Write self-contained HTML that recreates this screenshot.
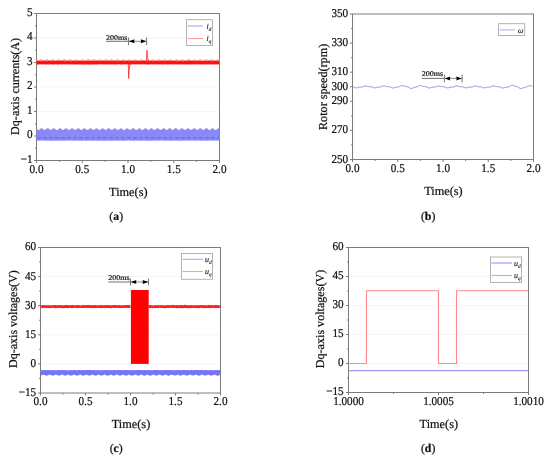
<!DOCTYPE html>
<html><head><meta charset="utf-8"><title>Figure</title><style>html,body{margin:0;padding:0;background:#fff;width:550px;height:460px;overflow:hidden}svg{display:block}</style></head><body>
<svg width="550" height="460" viewBox="0 0 550 460" font-family='"Liberation Serif", "Times New Roman", serif' fill="#111">
<style>text{stroke:#111;stroke-width:0.22px;paint-order:stroke;text-rendering:geometricPrecision}</style>
<rect width="550" height="460" fill="#fff"/>
<line x1="36.5" y1="136.00" x2="219.5" y2="136.00" stroke="#f6f6f6" stroke-width="1"/>
<line x1="36.5" y1="111.50" x2="219.5" y2="111.50" stroke="#f6f6f6" stroke-width="1"/>
<line x1="36.5" y1="87.00" x2="219.5" y2="87.00" stroke="#f6f6f6" stroke-width="1"/>
<line x1="36.5" y1="62.50" x2="219.5" y2="62.50" stroke="#f6f6f6" stroke-width="1"/>
<line x1="36.5" y1="38.00" x2="219.5" y2="38.00" stroke="#f6f6f6" stroke-width="1"/>
<line x1="36.50" y1="160.5" x2="36.50" y2="163.0" stroke="#7c7c7c" stroke-width="1"/>
<line x1="82.25" y1="160.5" x2="82.25" y2="163.0" stroke="#7c7c7c" stroke-width="1"/>
<line x1="128.00" y1="160.5" x2="128.00" y2="163.0" stroke="#7c7c7c" stroke-width="1"/>
<line x1="173.75" y1="160.5" x2="173.75" y2="163.0" stroke="#7c7c7c" stroke-width="1"/>
<line x1="219.50" y1="160.5" x2="219.50" y2="163.0" stroke="#7c7c7c" stroke-width="1"/>
<line x1="59.38" y1="160.5" x2="59.38" y2="162.0" stroke="#7c7c7c" stroke-width="1"/>
<line x1="105.12" y1="160.5" x2="105.12" y2="162.0" stroke="#7c7c7c" stroke-width="1"/>
<line x1="150.88" y1="160.5" x2="150.88" y2="162.0" stroke="#7c7c7c" stroke-width="1"/>
<line x1="196.62" y1="160.5" x2="196.62" y2="162.0" stroke="#7c7c7c" stroke-width="1"/>
<line x1="34.0" y1="160.50" x2="36.5" y2="160.50" stroke="#7c7c7c" stroke-width="1"/>
<line x1="34.0" y1="136.00" x2="36.5" y2="136.00" stroke="#7c7c7c" stroke-width="1"/>
<line x1="34.0" y1="111.50" x2="36.5" y2="111.50" stroke="#7c7c7c" stroke-width="1"/>
<line x1="34.0" y1="87.00" x2="36.5" y2="87.00" stroke="#7c7c7c" stroke-width="1"/>
<line x1="34.0" y1="62.50" x2="36.5" y2="62.50" stroke="#7c7c7c" stroke-width="1"/>
<line x1="34.0" y1="38.00" x2="36.5" y2="38.00" stroke="#7c7c7c" stroke-width="1"/>
<line x1="34.0" y1="13.50" x2="36.5" y2="13.50" stroke="#7c7c7c" stroke-width="1"/>
<line x1="35.0" y1="148.25" x2="36.5" y2="148.25" stroke="#7c7c7c" stroke-width="1"/>
<line x1="35.0" y1="123.75" x2="36.5" y2="123.75" stroke="#7c7c7c" stroke-width="1"/>
<line x1="35.0" y1="99.25" x2="36.5" y2="99.25" stroke="#7c7c7c" stroke-width="1"/>
<line x1="35.0" y1="74.75" x2="36.5" y2="74.75" stroke="#7c7c7c" stroke-width="1"/>
<line x1="35.0" y1="50.25" x2="36.5" y2="50.25" stroke="#7c7c7c" stroke-width="1"/>
<line x1="35.0" y1="25.75" x2="36.5" y2="25.75" stroke="#7c7c7c" stroke-width="1"/>
<rect x="36.5" y="13.5" width="183.0" height="147.0" fill="none" stroke="#7c7c7c" stroke-width="1"/>
<text transform="translate(36.50 172.5) scale(0.93 1)" font-size="12.0" text-anchor="middle">0.0</text>
<text transform="translate(82.25 172.5) scale(0.93 1)" font-size="12.0" text-anchor="middle">0.5</text>
<text transform="translate(128.00 172.5) scale(0.93 1)" font-size="12.0" text-anchor="middle">1.0</text>
<text transform="translate(173.75 172.5) scale(0.93 1)" font-size="12.0" text-anchor="middle">1.5</text>
<text transform="translate(219.50 172.5) scale(0.93 1)" font-size="12.0" text-anchor="middle">2.0</text>
<text transform="translate(32.6 162.85) scale(0.93 1)" font-size="12.0" text-anchor="end">−1</text>
<text transform="translate(32.6 138.35) scale(0.93 1)" font-size="12.0" text-anchor="end">0</text>
<text transform="translate(32.6 113.85) scale(0.93 1)" font-size="12.0" text-anchor="end">1</text>
<text transform="translate(32.6 89.35) scale(0.93 1)" font-size="12.0" text-anchor="end">2</text>
<text transform="translate(32.6 64.85) scale(0.93 1)" font-size="12.0" text-anchor="end">3</text>
<text transform="translate(32.6 40.35) scale(0.93 1)" font-size="12.0" text-anchor="end">4</text>
<text transform="translate(32.6 15.85) scale(0.93 1)" font-size="12.0" text-anchor="end">5</text>
<path d="M36.50 128.67 L37.00 128.98 L37.50 129.43 L38.00 129.90 L38.50 130.06 L39.00 129.98 L39.50 129.61 L40.00 129.31 L40.50 128.73 L41.00 128.41 L41.50 128.12 L42.00 128.20 L42.50 128.66 L43.00 128.99 L43.50 129.46 L44.00 129.67 L44.50 129.89 L45.00 130.01 L45.50 129.60 L46.00 129.33 L46.50 128.87 L47.00 128.40 L47.50 128.35 L48.00 128.27 L48.50 128.42 L49.00 128.71 L49.50 129.30 L50.00 129.76 L50.50 130.02 L51.00 129.82 L51.50 129.60 L52.00 129.30 L52.50 128.91 L53.00 128.45 L53.50 128.31 L54.00 128.39 L54.50 128.39 L55.00 128.67 L55.50 129.23 L56.00 129.73 L56.50 129.95 L57.00 130.05 L57.50 129.88 L58.00 129.47 L58.50 129.15 L59.00 128.60 L59.50 128.24 L60.00 128.32 L60.50 128.42 L61.00 128.56 L61.50 129.20 L62.00 129.60 L62.50 129.79 L63.00 130.07 L63.50 129.85 L64.00 129.38 L64.50 129.10 L65.00 128.64 L65.50 128.26 L66.00 128.14 L66.50 128.37 L67.00 128.74 L67.50 129.15 L68.00 129.53 L68.50 129.82 L69.00 130.07 L69.50 129.97 L70.00 129.73 L70.50 129.16 L71.00 128.85 L71.50 128.47 L72.00 128.16 L72.50 128.31 L73.00 128.67 L73.50 128.98 L74.00 129.26 L74.50 129.86 L75.00 129.90 L75.50 129.87 L76.00 129.65 L76.50 129.17 L77.00 128.92 L77.50 128.59 L78.00 128.27 L78.50 128.33 L79.00 128.39 L79.50 128.75 L80.00 129.18 L80.50 129.74 L81.00 129.93 L81.50 130.05 L82.00 129.79 L82.50 129.22 L83.00 128.81 L83.50 128.41 L84.00 128.39 L84.50 128.35 L85.00 128.39 L85.50 128.67 L86.00 129.15 L86.50 129.71 L87.00 129.73 L87.50 129.84 L88.00 129.86 L88.50 129.49 L89.00 128.88 L89.50 128.65 L90.00 128.27 L90.50 128.36 L91.00 128.26 L91.50 128.80 L92.00 128.96 L92.50 129.56 L93.00 129.92 L93.50 129.78 L94.00 129.81 L94.50 129.54 L95.00 129.01 L95.50 128.77 L96.00 128.46 L96.50 128.32 L97.00 128.45 L97.50 128.66 L98.00 129.00 L98.50 129.46 L99.00 129.77 L99.50 129.91 L100.00 129.87 L100.50 129.74 L101.00 129.29 L101.50 128.70 L102.00 128.48 L102.50 128.24 L103.00 128.42 L103.50 128.63 L104.00 128.85 L104.50 129.34 L105.00 129.59 L105.50 129.87 L106.00 129.88 L106.50 129.67 L107.00 129.28 L107.50 128.79 L108.00 128.35 L108.50 128.26 L109.00 128.18 L109.50 128.60 L110.00 128.98 L110.50 129.41 L111.00 129.57 L111.50 129.99 L112.00 129.86 L112.50 129.60 L113.00 129.44 L113.50 128.97 L114.00 128.40 L114.50 128.41 L115.00 128.26 L115.50 128.52 L116.00 128.70 L116.50 129.18 L117.00 129.73 L117.50 129.81 L118.00 130.05 L118.50 129.68 L119.00 129.56 L119.50 129.16 L120.00 128.69 L120.50 128.36 L121.00 128.16 L121.50 128.49 L122.00 128.67 L122.50 129.23 L123.00 129.46 L123.50 129.94 L124.00 129.88 L124.50 129.94 L125.00 129.65 L125.50 129.12 L126.00 128.68 L126.50 128.45 L127.00 128.24 L127.50 128.46 L128.00 128.75 L128.50 129.08 L129.00 129.36 L129.50 129.77 L130.00 129.96 L130.50 129.93 L131.00 129.52 L131.50 129.29 L132.00 128.64 L132.50 128.33 L133.00 128.26 L133.50 128.34 L134.00 128.49 L134.50 128.98 L135.00 129.30 L135.50 129.74 L136.00 130.04 L136.50 130.01 L137.00 129.73 L137.50 129.40 L138.00 128.74 L138.50 128.55 L139.00 128.34 L139.50 128.38 L140.00 128.56 L140.50 128.71 L141.00 129.35 L141.50 129.71 L142.00 130.03 L142.50 129.91 L143.00 129.80 L143.50 129.51 L144.00 129.06 L144.50 128.69 L145.00 128.36 L145.50 128.23 L146.00 128.36 L146.50 128.71 L147.00 129.23 L147.50 129.44 L148.00 129.78 L148.50 130.05 L149.00 129.65 L149.50 129.37 L150.00 129.13 L150.50 128.62 L151.00 128.25 L151.50 128.23 L152.00 128.33 L152.50 128.77 L153.00 129.22 L153.50 129.63 L154.00 129.80 L154.50 129.88 L155.00 129.82 L155.50 129.43 L156.00 129.11 L156.50 128.65 L157.00 128.31 L157.50 128.38 L158.00 128.27 L158.50 128.55 L159.00 129.02 L159.50 129.45 L160.00 129.69 L160.50 129.87 L161.00 129.96 L161.50 129.51 L162.00 129.17 L162.50 128.90 L163.00 128.38 L163.50 128.21 L164.00 128.30 L164.50 128.56 L165.00 128.82 L165.50 129.22 L166.00 129.86 L166.50 129.81 L167.00 129.90 L167.50 129.74 L168.00 129.36 L168.50 128.96 L169.00 128.35 L169.50 128.18 L170.00 128.16 L170.50 128.57 L171.00 128.86 L171.50 129.43 L172.00 129.67 L172.50 129.99 L173.00 129.96 L173.50 129.86 L174.00 129.26 L174.50 128.81 L175.00 128.43 L175.50 128.34 L176.00 128.11 L176.50 128.47 L177.00 128.84 L177.50 129.31 L178.00 129.65 L178.50 129.93 L179.00 129.91 L179.50 129.81 L180.00 129.33 L180.50 128.98 L181.00 128.49 L181.50 128.27 L182.00 128.18 L182.50 128.30 L183.00 128.76 L183.50 128.98 L184.00 129.52 L184.50 129.87 L185.00 129.78 L185.50 129.77 L186.00 129.50 L186.50 129.21 L187.00 128.78 L187.50 128.38 L188.00 128.13 L188.50 128.35 L189.00 128.71 L189.50 129.07 L190.00 129.52 L190.50 129.75 L191.00 129.84 L191.50 129.88 L192.00 129.62 L192.50 129.32 L193.00 128.63 L193.50 128.43 L194.00 128.15 L194.50 128.37 L195.00 128.58 L195.50 128.80 L196.00 129.25 L196.50 129.85 L197.00 129.79 L197.50 129.86 L198.00 129.69 L198.50 129.18 L199.00 128.71 L199.50 128.60 L200.00 128.27 L200.50 128.15 L201.00 128.44 L201.50 128.87 L202.00 129.42 L202.50 129.73 L203.00 129.84 L203.50 130.02 L204.00 129.67 L204.50 129.48 L205.00 128.93 L205.50 128.58 L206.00 128.27 L206.50 128.32 L207.00 128.29 L207.50 128.66 L208.00 129.27 L208.50 129.45 L209.00 129.91 L209.50 129.92 L210.00 129.79 L210.50 129.39 L211.00 129.10 L211.50 128.67 L212.00 128.28 L212.50 128.16 L213.00 128.38 L213.50 128.55 L214.00 129.01 L214.50 129.60 L215.00 129.88 L215.50 129.92 L216.00 129.90 L216.50 129.47 L217.00 129.21 L217.50 128.78 L218.00 128.49 L218.50 128.38 L219.00 128.22 L219.50 128.55 L219.50 140.80 L219.00 140.77 L218.50 140.62 L218.00 140.52 L217.50 140.79 L217.00 140.62 L216.50 140.78 L216.00 140.63 L215.50 140.56 L215.00 140.79 L214.50 140.73 L214.00 140.57 L213.50 140.59 L213.00 140.56 L212.50 140.72 L212.00 140.56 L211.50 140.63 L211.00 140.51 L210.50 140.78 L210.00 140.58 L209.50 140.70 L209.00 140.51 L208.50 140.71 L208.00 140.57 L207.50 140.64 L207.00 140.69 L206.50 140.64 L206.00 140.50 L205.50 140.57 L205.00 140.67 L204.50 140.52 L204.00 140.71 L203.50 140.58 L203.00 140.59 L202.50 140.78 L202.00 140.73 L201.50 140.67 L201.00 140.73 L200.50 140.72 L200.00 140.70 L199.50 140.55 L199.00 140.57 L198.50 140.76 L198.00 140.78 L197.50 140.50 L197.00 140.64 L196.50 140.71 L196.00 140.51 L195.50 140.75 L195.00 140.63 L194.50 140.57 L194.00 140.56 L193.50 140.69 L193.00 140.54 L192.50 140.58 L192.00 140.60 L191.50 140.66 L191.00 140.62 L190.50 140.77 L190.00 140.58 L189.50 140.53 L189.00 140.53 L188.50 140.54 L188.00 140.80 L187.50 140.57 L187.00 140.77 L186.50 140.55 L186.00 140.62 L185.50 140.59 L185.00 140.58 L184.50 140.72 L184.00 140.60 L183.50 140.54 L183.00 140.51 L182.50 140.69 L182.00 140.64 L181.50 140.51 L181.00 140.66 L180.50 140.77 L180.00 140.74 L179.50 140.79 L179.00 140.56 L178.50 140.58 L178.00 140.78 L177.50 140.75 L177.00 140.51 L176.50 140.63 L176.00 140.68 L175.50 140.62 L175.00 140.59 L174.50 140.71 L174.00 140.54 L173.50 140.73 L173.00 140.75 L172.50 140.60 L172.00 140.59 L171.50 140.65 L171.00 140.51 L170.50 140.77 L170.00 140.71 L169.50 140.65 L169.00 140.54 L168.50 140.66 L168.00 140.67 L167.50 140.78 L167.00 140.58 L166.50 140.79 L166.00 140.64 L165.50 140.78 L165.00 140.56 L164.50 140.54 L164.00 140.64 L163.50 140.59 L163.00 140.71 L162.50 140.58 L162.00 140.50 L161.50 140.59 L161.00 140.58 L160.50 140.52 L160.00 140.69 L159.50 140.71 L159.00 140.61 L158.50 140.79 L158.00 140.56 L157.50 140.58 L157.00 140.58 L156.50 140.52 L156.00 140.66 L155.50 140.72 L155.00 140.50 L154.50 140.70 L154.00 140.69 L153.50 140.75 L153.00 140.61 L152.50 140.51 L152.00 140.71 L151.50 140.77 L151.00 140.75 L150.50 140.75 L150.00 140.66 L149.50 140.74 L149.00 140.69 L148.50 140.75 L148.00 140.69 L147.50 140.54 L147.00 140.60 L146.50 140.76 L146.00 140.70 L145.50 140.66 L145.00 140.57 L144.50 140.51 L144.00 140.62 L143.50 140.58 L143.00 140.65 L142.50 140.65 L142.00 140.61 L141.50 140.61 L141.00 140.79 L140.50 140.66 L140.00 140.79 L139.50 140.63 L139.00 140.64 L138.50 140.57 L138.00 140.70 L137.50 140.75 L137.00 140.55 L136.50 140.72 L136.00 140.54 L135.50 140.60 L135.00 140.69 L134.50 140.75 L134.00 140.79 L133.50 140.65 L133.00 140.75 L132.50 140.63 L132.00 140.53 L131.50 140.64 L131.00 140.67 L130.50 140.50 L130.00 140.51 L129.50 140.55 L129.00 140.59 L128.50 140.59 L128.00 140.56 L127.50 140.55 L127.00 140.57 L126.50 140.54 L126.00 140.78 L125.50 140.60 L125.00 140.76 L124.50 140.76 L124.00 140.74 L123.50 140.78 L123.00 140.63 L122.50 140.52 L122.00 140.71 L121.50 140.78 L121.00 140.58 L120.50 140.77 L120.00 140.54 L119.50 140.73 L119.00 140.58 L118.50 140.79 L118.00 140.80 L117.50 140.65 L117.00 140.60 L116.50 140.63 L116.00 140.51 L115.50 140.60 L115.00 140.60 L114.50 140.63 L114.00 140.75 L113.50 140.65 L113.00 140.79 L112.50 140.79 L112.00 140.54 L111.50 140.71 L111.00 140.77 L110.50 140.70 L110.00 140.57 L109.50 140.63 L109.00 140.54 L108.50 140.78 L108.00 140.58 L107.50 140.76 L107.00 140.78 L106.50 140.66 L106.00 140.71 L105.50 140.65 L105.00 140.63 L104.50 140.73 L104.00 140.65 L103.50 140.58 L103.00 140.67 L102.50 140.74 L102.00 140.66 L101.50 140.67 L101.00 140.64 L100.50 140.74 L100.00 140.55 L99.50 140.51 L99.00 140.66 L98.50 140.78 L98.00 140.77 L97.50 140.64 L97.00 140.77 L96.50 140.63 L96.00 140.68 L95.50 140.59 L95.00 140.56 L94.50 140.76 L94.00 140.78 L93.50 140.69 L93.00 140.50 L92.50 140.66 L92.00 140.70 L91.50 140.75 L91.00 140.74 L90.50 140.55 L90.00 140.55 L89.50 140.78 L89.00 140.62 L88.50 140.74 L88.00 140.74 L87.50 140.64 L87.00 140.73 L86.50 140.70 L86.00 140.74 L85.50 140.64 L85.00 140.77 L84.50 140.56 L84.00 140.57 L83.50 140.61 L83.00 140.80 L82.50 140.63 L82.00 140.71 L81.50 140.58 L81.00 140.51 L80.50 140.66 L80.00 140.72 L79.50 140.74 L79.00 140.80 L78.50 140.57 L78.00 140.73 L77.50 140.73 L77.00 140.61 L76.50 140.71 L76.00 140.79 L75.50 140.51 L75.00 140.54 L74.50 140.79 L74.00 140.55 L73.50 140.58 L73.00 140.53 L72.50 140.65 L72.00 140.80 L71.50 140.54 L71.00 140.60 L70.50 140.54 L70.00 140.76 L69.50 140.61 L69.00 140.55 L68.50 140.52 L68.00 140.55 L67.50 140.52 L67.00 140.69 L66.50 140.62 L66.00 140.74 L65.50 140.73 L65.00 140.52 L64.50 140.69 L64.00 140.71 L63.50 140.67 L63.00 140.63 L62.50 140.58 L62.00 140.65 L61.50 140.57 L61.00 140.55 L60.50 140.77 L60.00 140.62 L59.50 140.76 L59.00 140.77 L58.50 140.63 L58.00 140.76 L57.50 140.57 L57.00 140.73 L56.50 140.54 L56.00 140.64 L55.50 140.70 L55.00 140.59 L54.50 140.80 L54.00 140.71 L53.50 140.70 L53.00 140.78 L52.50 140.64 L52.00 140.68 L51.50 140.59 L51.00 140.67 L50.50 140.70 L50.00 140.65 L49.50 140.73 L49.00 140.54 L48.50 140.59 L48.00 140.76 L47.50 140.67 L47.00 140.71 L46.50 140.59 L46.00 140.68 L45.50 140.63 L45.00 140.56 L44.50 140.52 L44.00 140.61 L43.50 140.67 L43.00 140.74 L42.50 140.54 L42.00 140.59 L41.50 140.51 L41.00 140.62 L40.50 140.78 L40.00 140.57 L39.50 140.75 L39.00 140.53 L38.50 140.63 L38.00 140.65 L37.50 140.61 L37.00 140.52 L36.50 140.55 Z" fill="#8989f8" fill-opacity="1.0"/>
<line x1="37.0" y1="137.9" x2="219.0" y2="137.9" stroke="#6a6af2" stroke-width="1.3" stroke-dasharray="4 2"/>
<path d="M36.50 59.72 L37.00 60.10 L37.50 60.14 L38.00 60.19 L38.50 60.16 L39.00 60.01 L39.50 59.75 L40.00 59.39 L40.50 59.24 L41.00 59.33 L41.50 59.34 L42.00 59.70 L42.50 59.88 L43.00 60.13 L43.50 60.13 L44.00 60.24 L44.50 60.05 L45.00 59.99 L45.50 59.57 L46.00 59.39 L46.50 59.35 L47.00 59.22 L47.50 59.49 L48.00 59.69 L48.50 60.00 L49.00 60.02 L49.50 60.13 L50.00 60.26 L50.50 59.98 L51.00 59.87 L51.50 59.62 L52.00 59.32 L52.50 59.25 L53.00 59.27 L53.50 59.46 L54.00 59.74 L54.50 59.89 L55.00 60.20 L55.50 60.28 L56.00 60.28 L56.50 60.07 L57.00 59.73 L57.50 59.61 L58.00 59.46 L58.50 59.26 L59.00 59.41 L59.50 59.49 L60.00 59.70 L60.50 59.96 L61.00 60.10 L61.50 60.22 L62.00 60.12 L62.50 60.04 L63.00 59.82 L63.50 59.50 L64.00 59.37 L64.50 59.30 L65.00 59.32 L65.50 59.46 L66.00 59.81 L66.50 59.96 L67.00 60.28 L67.50 60.30 L68.00 60.04 L68.50 59.86 L69.00 59.63 L69.50 59.53 L70.00 59.24 L70.50 59.29 L71.00 59.46 L71.50 59.68 L72.00 59.90 L72.50 60.04 L73.00 60.30 L73.50 60.18 L74.00 60.14 L74.50 59.84 L75.00 59.74 L75.50 59.46 L76.00 59.29 L76.50 59.38 L77.00 59.46 L77.50 59.69 L78.00 59.94 L78.50 60.14 L79.00 60.15 L79.50 60.23 L80.00 60.03 L80.50 59.95 L81.00 59.62 L81.50 59.43 L82.00 59.31 L82.50 59.43 L83.00 59.45 L83.50 59.79 L84.00 59.97 L84.50 60.21 L85.00 60.22 L85.50 60.27 L86.00 59.97 L86.50 59.86 L87.00 59.47 L87.50 59.38 L88.00 59.22 L88.50 59.27 L89.00 59.45 L89.50 59.70 L90.00 60.01 L90.50 60.10 L91.00 60.29 L91.50 60.16 L92.00 60.07 L92.50 59.71 L93.00 59.61 L93.50 59.30 L94.00 59.23 L94.50 59.36 L95.00 59.54 L95.50 59.82 L96.00 60.05 L96.50 60.20 L97.00 60.32 L97.50 60.14 L98.00 59.89 L98.50 59.71 L99.00 59.48 L99.50 59.41 L100.00 59.39 L100.50 59.40 L101.00 59.58 L101.50 59.80 L102.00 60.07 L102.50 60.21 L103.00 60.13 L103.50 60.04 L104.00 59.85 L104.50 59.72 L105.00 59.44 L105.50 59.23 L106.00 59.26 L106.50 59.53 L107.00 59.60 L107.50 59.82 L108.00 60.04 L108.50 60.22 L109.00 60.26 L109.50 60.07 L110.00 59.94 L110.50 59.68 L111.00 59.37 L111.50 59.37 L112.00 59.41 L112.50 59.45 L113.00 59.63 L113.50 59.93 L114.00 60.22 L114.50 60.20 L115.00 60.13 L115.50 59.93 L116.00 59.83 L116.50 59.57 L117.00 59.33 L117.50 59.24 L118.00 59.32 L118.50 59.50 L119.00 59.79 L119.50 60.08 L120.00 60.14 L120.50 60.23 L121.00 60.24 L121.50 59.96 L122.00 59.85 L122.50 59.60 L123.00 59.41 L123.50 59.28 L124.00 59.35 L124.50 59.63 L125.00 59.85 L125.50 60.11 L126.00 60.11 L126.50 60.25 L127.00 60.24 L127.50 59.93 L128.00 59.67 L128.50 59.39 L129.00 59.38 L129.50 59.40 L130.00 59.43 L130.50 59.70 L131.00 59.95 L131.50 59.98 L132.00 60.27 L132.50 60.22 L133.00 60.04 L133.50 59.94 L134.00 59.74 L134.50 59.38 L135.00 59.42 L135.50 59.27 L136.00 59.39 L136.50 59.71 L137.00 59.95 L137.50 60.14 L138.00 60.18 L138.50 60.16 L139.00 60.06 L139.50 59.79 L140.00 59.65 L140.50 59.31 L141.00 59.23 L141.50 59.38 L142.00 59.43 L142.50 59.65 L143.00 59.87 L143.50 60.19 L144.00 60.20 L144.50 60.16 L145.00 60.04 L145.50 59.76 L146.00 59.57 L146.50 59.36 L147.00 59.36 L147.50 59.44 L148.00 59.59 L148.50 59.83 L149.00 60.02 L149.50 60.26 L150.00 60.19 L150.50 60.13 L151.00 60.08 L151.50 59.78 L152.00 59.45 L152.50 59.44 L153.00 59.22 L153.50 59.46 L154.00 59.64 L154.50 59.73 L155.00 60.01 L155.50 60.16 L156.00 60.31 L156.50 60.09 L157.00 59.98 L157.50 59.80 L158.00 59.52 L158.50 59.36 L159.00 59.21 L159.50 59.34 L160.00 59.70 L160.50 59.86 L161.00 60.10 L161.50 60.20 L162.00 60.15 L162.50 60.04 L163.00 60.00 L163.50 59.60 L164.00 59.54 L164.50 59.32 L165.00 59.38 L165.50 59.47 L166.00 59.70 L166.50 59.94 L167.00 60.07 L167.50 60.30 L168.00 60.29 L168.50 60.03 L169.00 59.83 L169.50 59.63 L170.00 59.33 L170.50 59.23 L171.00 59.39 L171.50 59.40 L172.00 59.73 L172.50 60.00 L173.00 60.13 L173.50 60.18 L174.00 60.22 L174.50 60.10 L175.00 59.77 L175.50 59.63 L176.00 59.32 L176.50 59.38 L177.00 59.28 L177.50 59.58 L178.00 59.71 L178.50 60.06 L179.00 60.22 L179.50 60.23 L180.00 60.20 L180.50 59.90 L181.00 59.83 L181.50 59.60 L182.00 59.26 L182.50 59.25 L183.00 59.44 L183.50 59.64 L184.00 59.82 L184.50 60.05 L185.00 60.15 L185.50 60.20 L186.00 60.21 L186.50 59.96 L187.00 59.62 L187.50 59.46 L188.00 59.35 L188.50 59.26 L189.00 59.35 L189.50 59.54 L190.00 59.82 L190.50 60.11 L191.00 60.29 L191.50 60.16 L192.00 60.08 L192.50 59.91 L193.00 59.63 L193.50 59.41 L194.00 59.38 L194.50 59.26 L195.00 59.44 L195.50 59.75 L196.00 59.97 L196.50 60.02 L197.00 60.30 L197.50 60.20 L198.00 60.07 L198.50 59.79 L199.00 59.63 L199.50 59.47 L200.00 59.33 L200.50 59.41 L201.00 59.51 L201.50 59.75 L202.00 60.04 L202.50 60.15 L203.00 60.26 L203.50 60.24 L204.00 59.94 L204.50 59.86 L205.00 59.58 L205.50 59.45 L206.00 59.24 L206.50 59.36 L207.00 59.57 L207.50 59.78 L208.00 59.93 L208.50 60.17 L209.00 60.22 L209.50 60.10 L210.00 59.92 L210.50 59.78 L211.00 59.53 L211.50 59.45 L212.00 59.34 L212.50 59.42 L213.00 59.58 L213.50 59.77 L214.00 59.95 L214.50 60.28 L215.00 60.15 L215.50 60.21 L216.00 59.92 L216.50 59.80 L217.00 59.45 L217.50 59.41 L218.00 59.36 L218.50 59.44 L219.00 59.53 L219.50 59.92 L219.50 64.28 L219.00 64.26 L218.50 64.13 L218.00 64.26 L217.50 64.13 L217.00 64.15 L216.50 64.29 L216.00 64.10 L215.50 64.27 L215.00 64.26 L214.50 64.27 L214.00 64.27 L213.50 64.17 L213.00 64.23 L212.50 64.20 L212.00 64.15 L211.50 64.24 L211.00 64.14 L210.50 64.15 L210.00 64.15 L209.50 64.17 L209.00 64.13 L208.50 64.16 L208.00 64.26 L207.50 64.23 L207.00 64.29 L206.50 64.21 L206.00 64.23 L205.50 64.26 L205.00 64.14 L204.50 64.26 L204.00 64.21 L203.50 64.25 L203.00 64.15 L202.50 64.24 L202.00 64.18 L201.50 64.18 L201.00 64.11 L200.50 64.30 L200.00 64.25 L199.50 64.24 L199.00 64.29 L198.50 64.20 L198.00 64.23 L197.50 64.24 L197.00 64.21 L196.50 64.20 L196.00 64.26 L195.50 64.21 L195.00 64.29 L194.50 64.18 L194.00 64.23 L193.50 64.29 L193.00 64.18 L192.50 64.19 L192.00 64.15 L191.50 64.24 L191.00 64.18 L190.50 64.23 L190.00 64.19 L189.50 64.24 L189.00 64.24 L188.50 64.28 L188.00 64.15 L187.50 64.25 L187.00 64.19 L186.50 64.25 L186.00 64.22 L185.50 64.19 L185.00 64.20 L184.50 64.26 L184.00 64.11 L183.50 64.14 L183.00 64.23 L182.50 64.19 L182.00 64.26 L181.50 64.18 L181.00 64.29 L180.50 64.25 L180.00 64.14 L179.50 64.13 L179.00 64.17 L178.50 64.13 L178.00 64.27 L177.50 64.16 L177.00 64.15 L176.50 64.19 L176.00 64.22 L175.50 64.19 L175.00 64.25 L174.50 64.27 L174.00 64.17 L173.50 64.23 L173.00 64.25 L172.50 64.19 L172.00 64.28 L171.50 64.20 L171.00 64.15 L170.50 64.11 L170.00 64.12 L169.50 64.18 L169.00 64.17 L168.50 64.26 L168.00 64.26 L167.50 64.23 L167.00 64.20 L166.50 64.14 L166.00 64.29 L165.50 64.27 L165.00 64.20 L164.50 64.26 L164.00 64.20 L163.50 64.30 L163.00 64.14 L162.50 64.13 L162.00 64.12 L161.50 64.14 L161.00 64.24 L160.50 64.25 L160.00 64.18 L159.50 64.22 L159.00 64.20 L158.50 64.16 L158.00 64.24 L157.50 64.15 L157.00 64.18 L156.50 64.14 L156.00 64.12 L155.50 64.16 L155.00 64.27 L154.50 64.26 L154.00 64.11 L153.50 64.14 L153.00 64.29 L152.50 64.27 L152.00 64.28 L151.50 64.26 L151.00 64.22 L150.50 64.25 L150.00 64.23 L149.50 64.11 L149.00 64.13 L148.50 64.29 L148.00 64.11 L147.50 64.28 L147.00 64.22 L146.50 64.16 L146.00 64.24 L145.50 64.27 L145.00 64.27 L144.50 64.30 L144.00 64.24 L143.50 64.28 L143.00 64.17 L142.50 64.17 L142.00 64.29 L141.50 64.15 L141.00 64.10 L140.50 64.14 L140.00 64.23 L139.50 64.20 L139.00 64.19 L138.50 64.15 L138.00 64.27 L137.50 64.25 L137.00 64.11 L136.50 64.12 L136.00 64.19 L135.50 64.19 L135.00 64.27 L134.50 64.24 L134.00 64.28 L133.50 64.16 L133.00 64.13 L132.50 64.23 L132.00 64.22 L131.50 64.13 L131.00 64.21 L130.50 64.26 L130.00 64.15 L129.50 64.21 L129.00 64.28 L128.50 64.25 L128.00 64.19 L127.50 64.17 L127.00 64.23 L126.50 64.15 L126.00 64.26 L125.50 64.23 L125.00 64.13 L124.50 64.29 L124.00 64.19 L123.50 64.14 L123.00 64.22 L122.50 64.17 L122.00 64.17 L121.50 64.10 L121.00 64.15 L120.50 64.28 L120.00 64.19 L119.50 64.13 L119.00 64.10 L118.50 64.23 L118.00 64.30 L117.50 64.15 L117.00 64.11 L116.50 64.14 L116.00 64.25 L115.50 64.22 L115.00 64.15 L114.50 64.18 L114.00 64.30 L113.50 64.28 L113.00 64.21 L112.50 64.17 L112.00 64.21 L111.50 64.26 L111.00 64.28 L110.50 64.29 L110.00 64.14 L109.50 64.16 L109.00 64.15 L108.50 64.28 L108.00 64.13 L107.50 64.15 L107.00 64.13 L106.50 64.17 L106.00 64.29 L105.50 64.13 L105.00 64.29 L104.50 64.30 L104.00 64.26 L103.50 64.30 L103.00 64.13 L102.50 64.18 L102.00 64.11 L101.50 64.26 L101.00 64.12 L100.50 64.11 L100.00 64.19 L99.50 64.19 L99.00 64.12 L98.50 64.14 L98.00 64.26 L97.50 64.15 L97.00 64.22 L96.50 64.19 L96.00 64.23 L95.50 64.22 L95.00 64.16 L94.50 64.21 L94.00 64.12 L93.50 64.11 L93.00 64.21 L92.50 64.28 L92.00 64.15 L91.50 64.18 L91.00 64.18 L90.50 64.14 L90.00 64.27 L89.50 64.14 L89.00 64.13 L88.50 64.22 L88.00 64.18 L87.50 64.11 L87.00 64.30 L86.50 64.13 L86.00 64.29 L85.50 64.20 L85.00 64.29 L84.50 64.16 L84.00 64.20 L83.50 64.22 L83.00 64.28 L82.50 64.21 L82.00 64.13 L81.50 64.28 L81.00 64.26 L80.50 64.28 L80.00 64.14 L79.50 64.14 L79.00 64.30 L78.50 64.18 L78.00 64.21 L77.50 64.29 L77.00 64.16 L76.50 64.24 L76.00 64.12 L75.50 64.21 L75.00 64.12 L74.50 64.21 L74.00 64.14 L73.50 64.14 L73.00 64.17 L72.50 64.14 L72.00 64.22 L71.50 64.14 L71.00 64.17 L70.50 64.22 L70.00 64.12 L69.50 64.26 L69.00 64.19 L68.50 64.17 L68.00 64.22 L67.50 64.14 L67.00 64.16 L66.50 64.28 L66.00 64.26 L65.50 64.12 L65.00 64.23 L64.50 64.15 L64.00 64.30 L63.50 64.17 L63.00 64.28 L62.50 64.15 L62.00 64.14 L61.50 64.17 L61.00 64.16 L60.50 64.12 L60.00 64.27 L59.50 64.23 L59.00 64.18 L58.50 64.19 L58.00 64.20 L57.50 64.12 L57.00 64.30 L56.50 64.30 L56.00 64.21 L55.50 64.11 L55.00 64.25 L54.50 64.12 L54.00 64.17 L53.50 64.17 L53.00 64.25 L52.50 64.25 L52.00 64.14 L51.50 64.20 L51.00 64.15 L50.50 64.29 L50.00 64.20 L49.50 64.10 L49.00 64.23 L48.50 64.25 L48.00 64.16 L47.50 64.24 L47.00 64.22 L46.50 64.15 L46.00 64.28 L45.50 64.15 L45.00 64.11 L44.50 64.11 L44.00 64.26 L43.50 64.11 L43.00 64.17 L42.50 64.28 L42.00 64.19 L41.50 64.19 L41.00 64.26 L40.50 64.14 L40.00 64.12 L39.50 64.17 L39.00 64.10 L38.50 64.17 L38.00 64.18 L37.50 64.11 L37.00 64.29 L36.50 64.17 Z" fill="#ff9090" fill-opacity="1.0"/>
<path d="M36.50 60.72 L37.00 60.74 L37.50 60.74 L38.00 60.96 L38.50 60.90 L39.00 60.97 L39.50 60.98 L40.00 61.11 L40.50 61.08 L41.00 61.13 L41.50 61.16 L42.00 61.19 L42.50 60.91 L43.00 60.81 L43.50 60.79 L44.00 60.92 L44.50 60.78 L45.00 60.92 L45.50 61.14 L46.00 60.99 L46.50 61.13 L47.00 61.12 L47.50 61.05 L48.00 61.14 L48.50 60.81 L49.00 60.85 L49.50 60.84 L50.00 60.98 L50.50 60.95 L51.00 60.87 L51.50 60.91 L52.00 61.05 L52.50 61.09 L53.00 61.09 L53.50 61.22 L54.00 61.27 L54.50 60.73 L55.00 60.95 L55.50 60.74 L56.00 61.03 L56.50 61.09 L57.00 60.85 L57.50 60.97 L58.00 60.94 L58.50 61.06 L59.00 61.08 L59.50 61.13 L60.00 61.17 L60.50 60.70 L61.00 60.92 L61.50 60.78 L62.00 60.86 L62.50 60.85 L63.00 60.97 L63.50 61.09 L64.00 61.12 L64.50 61.07 L65.00 61.28 L65.50 61.33 L66.00 61.14 L66.50 60.67 L67.00 60.98 L67.50 60.84 L68.00 60.77 L68.50 60.98 L69.00 60.95 L69.50 61.14 L70.00 61.22 L70.50 61.23 L71.00 61.28 L71.50 61.31 L72.00 60.69 L72.50 60.73 L73.00 60.97 L73.50 60.82 L74.00 60.85 L74.50 60.92 L75.00 61.01 L75.50 61.12 L76.00 61.02 L76.50 61.27 L77.00 61.07 L77.50 61.26 L78.00 60.87 L78.50 60.81 L79.00 60.89 L79.50 60.91 L80.00 61.04 L80.50 61.01 L81.00 60.97 L81.50 61.09 L82.00 60.96 L82.50 61.11 L83.00 61.30 L83.50 61.15 L84.00 60.82 L84.50 60.67 L85.00 60.83 L85.50 60.92 L86.00 60.97 L86.50 60.95 L87.00 60.93 L87.50 61.21 L88.00 61.12 L88.50 61.05 L89.00 61.32 L89.50 61.13 L90.00 60.76 L90.50 60.72 L91.00 60.81 L91.50 60.95 L92.00 60.93 L92.50 61.08 L93.00 60.90 L93.50 61.04 L94.00 61.12 L94.50 61.22 L95.00 61.10 L95.50 61.35 L96.00 60.71 L96.50 60.81 L97.00 60.76 L97.50 60.92 L98.00 61.05 L98.50 61.09 L99.00 61.08 L99.50 61.10 L100.00 61.22 L100.50 61.01 L101.00 61.32 L101.50 60.67 L102.00 60.77 L102.50 60.83 L103.00 61.02 L103.50 60.81 L104.00 60.94 L104.50 60.92 L105.00 60.91 L105.50 60.99 L106.00 61.20 L106.50 61.25 L107.00 61.33 L107.50 60.75 L108.00 60.82 L108.50 60.72 L109.00 60.86 L109.50 61.04 L110.00 61.04 L110.50 60.97 L111.00 61.00 L111.50 61.11 L112.00 60.99 L112.50 61.26 L113.00 61.29 L113.50 60.65 L114.00 60.71 L114.50 60.77 L115.00 60.85 L115.50 61.07 L116.00 60.90 L116.50 60.97 L117.00 61.03 L117.50 61.22 L118.00 61.21 L118.50 61.19 L119.00 61.30 L119.50 60.73 L120.00 60.76 L120.50 61.00 L121.00 60.99 L121.50 60.84 L122.00 61.09 L122.50 61.15 L123.00 60.96 L123.50 61.12 L124.00 61.05 L124.50 61.15 L125.00 61.31 L125.50 60.73 L126.00 60.94 L126.50 60.94 L127.00 61.02 L127.50 60.85 L128.00 61.09 L128.50 61.09 L129.00 61.19 L129.50 61.25 L130.00 61.11 L130.50 61.20 L131.00 60.83 L131.50 60.84 L132.00 60.69 L132.50 61.00 L133.00 60.80 L133.50 60.89 L134.00 60.86 L134.50 60.95 L135.00 61.19 L135.50 61.02 L136.00 61.26 L136.50 61.08 L137.00 60.74 L137.50 60.90 L138.00 60.78 L138.50 61.01 L139.00 60.90 L139.50 61.04 L140.00 60.98 L140.50 60.96 L141.00 61.18 L141.50 61.06 L142.00 61.11 L142.50 61.12 L143.00 60.67 L143.50 60.82 L144.00 60.73 L144.50 60.78 L145.00 61.03 L145.50 61.02 L146.00 61.06 L146.50 61.21 L147.00 61.12 L147.50 61.25 L148.00 61.09 L148.50 61.28 L149.00 60.82 L149.50 60.95 L150.00 60.73 L150.50 60.90 L151.00 60.93 L151.50 60.85 L152.00 61.12 L152.50 61.14 L153.00 61.25 L153.50 61.09 L154.00 61.33 L154.50 61.21 L155.00 60.73 L155.50 60.72 L156.00 61.01 L156.50 60.91 L157.00 61.02 L157.50 61.02 L158.00 61.01 L158.50 61.18 L159.00 61.04 L159.50 61.06 L160.00 61.23 L160.50 60.66 L161.00 60.83 L161.50 60.76 L162.00 60.96 L162.50 60.94 L163.00 60.87 L163.50 60.91 L164.00 61.18 L164.50 60.95 L165.00 61.20 L165.50 61.13 L166.00 61.20 L166.50 60.79 L167.00 60.95 L167.50 60.71 L168.00 60.76 L168.50 60.84 L169.00 60.85 L169.50 60.97 L170.00 61.00 L170.50 61.08 L171.00 61.10 L171.50 61.17 L172.00 61.08 L172.50 60.83 L173.00 60.93 L173.50 60.72 L174.00 60.97 L174.50 60.93 L175.00 61.09 L175.50 61.08 L176.00 61.12 L176.50 61.22 L177.00 61.04 L177.50 61.16 L178.00 61.31 L178.50 60.79 L179.00 60.79 L179.50 60.92 L180.00 60.99 L180.50 60.98 L181.00 61.13 L181.50 60.92 L182.00 61.05 L182.50 61.17 L183.00 61.21 L183.50 61.29 L184.00 61.12 L184.50 60.92 L185.00 60.85 L185.50 60.99 L186.00 60.77 L186.50 61.06 L187.00 61.04 L187.50 61.00 L188.00 60.98 L188.50 61.04 L189.00 61.08 L189.50 61.11 L190.00 60.63 L190.50 60.69 L191.00 60.76 L191.50 60.88 L192.00 60.90 L192.50 60.88 L193.00 60.97 L193.50 61.06 L194.00 61.02 L194.50 61.16 L195.00 61.20 L195.50 61.12 L196.00 60.77 L196.50 60.90 L197.00 60.95 L197.50 60.86 L198.00 60.80 L198.50 60.87 L199.00 60.87 L199.50 61.07 L200.00 61.24 L200.50 61.11 L201.00 61.05 L201.50 61.20 L202.00 60.77 L202.50 60.76 L203.00 60.90 L203.50 60.94 L204.00 60.88 L204.50 61.10 L205.00 61.05 L205.50 61.04 L206.00 60.96 L206.50 61.16 L207.00 61.03 L207.50 61.21 L208.00 60.88 L208.50 60.68 L209.00 60.86 L209.50 60.79 L210.00 60.85 L210.50 60.87 L211.00 61.13 L211.50 61.06 L212.00 61.20 L212.50 61.11 L213.00 61.23 L213.50 61.19 L214.00 60.82 L214.50 60.89 L215.00 61.02 L215.50 60.81 L216.00 60.90 L216.50 60.99 L217.00 61.10 L217.50 61.07 L218.00 61.09 L218.50 61.27 L219.00 61.12 L219.50 60.88 L219.50 64.25 L219.00 64.23 L218.50 64.25 L218.00 64.32 L217.50 64.50 L217.00 64.39 L216.50 64.37 L216.00 64.26 L215.50 64.38 L215.00 64.29 L214.50 64.41 L214.00 64.44 L213.50 64.21 L213.00 64.50 L212.50 64.38 L212.00 64.25 L211.50 64.35 L211.00 64.29 L210.50 64.33 L210.00 64.50 L209.50 64.41 L209.00 64.23 L208.50 64.45 L208.00 64.30 L207.50 64.44 L207.00 64.30 L206.50 64.39 L206.00 64.35 L205.50 64.46 L205.00 64.37 L204.50 64.31 L204.00 64.36 L203.50 64.48 L203.00 64.38 L202.50 64.32 L202.00 64.36 L201.50 64.50 L201.00 64.43 L200.50 64.35 L200.00 64.21 L199.50 64.47 L199.00 64.26 L198.50 64.45 L198.00 64.30 L197.50 64.23 L197.00 64.37 L196.50 64.29 L196.00 64.33 L195.50 64.45 L195.00 64.30 L194.50 64.37 L194.00 64.29 L193.50 64.34 L193.00 64.31 L192.50 64.46 L192.00 64.33 L191.50 64.49 L191.00 64.38 L190.50 64.20 L190.00 64.24 L189.50 64.41 L189.00 64.34 L188.50 64.42 L188.00 64.36 L187.50 64.45 L187.00 64.40 L186.50 64.30 L186.00 64.42 L185.50 64.27 L185.00 64.42 L184.50 64.32 L184.00 64.33 L183.50 64.22 L183.00 64.43 L182.50 64.50 L182.00 64.35 L181.50 64.27 L181.00 64.31 L180.50 64.38 L180.00 64.35 L179.50 64.27 L179.00 64.34 L178.50 64.36 L178.00 64.41 L177.50 64.40 L177.00 64.38 L176.50 64.36 L176.00 64.27 L175.50 64.32 L175.00 64.24 L174.50 64.24 L174.00 64.34 L173.50 64.35 L173.00 64.38 L172.50 64.39 L172.00 64.29 L171.50 64.33 L171.00 64.28 L170.50 64.48 L170.00 64.28 L169.50 64.28 L169.00 64.21 L168.50 64.47 L168.00 64.39 L167.50 64.43 L167.00 64.24 L166.50 64.35 L166.00 64.22 L165.50 64.31 L165.00 64.33 L164.50 64.48 L164.00 64.36 L163.50 64.45 L163.00 64.47 L162.50 64.49 L162.00 64.30 L161.50 64.30 L161.00 64.48 L160.50 64.36 L160.00 64.33 L159.50 64.48 L159.00 64.25 L158.50 64.37 L158.00 64.46 L157.50 64.24 L157.00 64.24 L156.50 64.35 L156.00 64.24 L155.50 64.42 L155.00 64.23 L154.50 64.36 L154.00 64.38 L153.50 64.26 L153.00 64.23 L152.50 64.45 L152.00 64.23 L151.50 64.27 L151.00 64.21 L150.50 64.36 L150.00 64.35 L149.50 64.46 L149.00 64.43 L148.50 64.41 L148.00 64.46 L147.50 64.41 L147.00 64.35 L146.50 64.36 L146.00 64.38 L145.50 64.25 L145.00 64.45 L144.50 64.28 L144.00 64.34 L143.50 64.20 L143.00 64.46 L142.50 64.30 L142.00 64.22 L141.50 64.32 L141.00 64.22 L140.50 64.37 L140.00 64.41 L139.50 64.26 L139.00 64.35 L138.50 64.23 L138.00 64.26 L137.50 64.43 L137.00 64.24 L136.50 64.27 L136.00 64.33 L135.50 64.36 L135.00 64.20 L134.50 64.30 L134.00 64.20 L133.50 64.29 L133.00 64.22 L132.50 64.29 L132.00 64.48 L131.50 64.50 L131.00 64.26 L130.50 64.29 L130.00 64.26 L129.50 64.47 L129.00 64.49 L128.50 64.47 L128.00 64.35 L127.50 64.30 L127.00 64.28 L126.50 64.32 L126.00 64.46 L125.50 64.37 L125.00 64.22 L124.50 64.24 L124.00 64.34 L123.50 64.30 L123.00 64.39 L122.50 64.48 L122.00 64.33 L121.50 64.47 L121.00 64.48 L120.50 64.48 L120.00 64.26 L119.50 64.20 L119.00 64.24 L118.50 64.25 L118.00 64.24 L117.50 64.30 L117.00 64.43 L116.50 64.29 L116.00 64.48 L115.50 64.24 L115.00 64.50 L114.50 64.41 L114.00 64.21 L113.50 64.47 L113.00 64.31 L112.50 64.21 L112.00 64.50 L111.50 64.25 L111.00 64.32 L110.50 64.49 L110.00 64.37 L109.50 64.49 L109.00 64.32 L108.50 64.22 L108.00 64.48 L107.50 64.46 L107.00 64.22 L106.50 64.25 L106.00 64.21 L105.50 64.49 L105.00 64.43 L104.50 64.33 L104.00 64.28 L103.50 64.35 L103.00 64.50 L102.50 64.21 L102.00 64.30 L101.50 64.25 L101.00 64.39 L100.50 64.31 L100.00 64.21 L99.50 64.36 L99.00 64.37 L98.50 64.41 L98.00 64.26 L97.50 64.38 L97.00 64.36 L96.50 64.47 L96.00 64.27 L95.50 64.44 L95.00 64.34 L94.50 64.43 L94.00 64.26 L93.50 64.40 L93.00 64.27 L92.50 64.43 L92.00 64.44 L91.50 64.23 L91.00 64.47 L90.50 64.44 L90.00 64.28 L89.50 64.46 L89.00 64.45 L88.50 64.47 L88.00 64.38 L87.50 64.28 L87.00 64.28 L86.50 64.47 L86.00 64.41 L85.50 64.47 L85.00 64.29 L84.50 64.45 L84.00 64.38 L83.50 64.45 L83.00 64.49 L82.50 64.29 L82.00 64.44 L81.50 64.44 L81.00 64.33 L80.50 64.39 L80.00 64.44 L79.50 64.40 L79.00 64.37 L78.50 64.22 L78.00 64.46 L77.50 64.42 L77.00 64.22 L76.50 64.40 L76.00 64.20 L75.50 64.49 L75.00 64.48 L74.50 64.41 L74.00 64.23 L73.50 64.46 L73.00 64.43 L72.50 64.26 L72.00 64.27 L71.50 64.21 L71.00 64.46 L70.50 64.49 L70.00 64.41 L69.50 64.20 L69.00 64.26 L68.50 64.23 L68.00 64.34 L67.50 64.48 L67.00 64.32 L66.50 64.33 L66.00 64.37 L65.50 64.24 L65.00 64.37 L64.50 64.48 L64.00 64.33 L63.50 64.33 L63.00 64.28 L62.50 64.44 L62.00 64.31 L61.50 64.47 L61.00 64.21 L60.50 64.23 L60.00 64.34 L59.50 64.26 L59.00 64.38 L58.50 64.39 L58.00 64.38 L57.50 64.44 L57.00 64.38 L56.50 64.26 L56.00 64.29 L55.50 64.36 L55.00 64.42 L54.50 64.44 L54.00 64.38 L53.50 64.30 L53.00 64.44 L52.50 64.49 L52.00 64.28 L51.50 64.32 L51.00 64.29 L50.50 64.37 L50.00 64.33 L49.50 64.43 L49.00 64.34 L48.50 64.46 L48.00 64.39 L47.50 64.21 L47.00 64.35 L46.50 64.49 L46.00 64.48 L45.50 64.38 L45.00 64.39 L44.50 64.22 L44.00 64.33 L43.50 64.45 L43.00 64.37 L42.50 64.45 L42.00 64.46 L41.50 64.35 L41.00 64.24 L40.50 64.22 L40.00 64.24 L39.50 64.28 L39.00 64.46 L38.50 64.42 L38.00 64.41 L37.50 64.45 L37.00 64.47 L36.50 64.43 Z" fill="#ff1010" fill-opacity="1.0"/>
<path d="M128.30 64.00 L128.60 78.42 L128.85 74.14 L129.10 70.80 L129.35 68.45 L129.60 66.82 L129.85 65.67 L130.10 64.87 L130.35 64.31 L130.60 63.91 L130.85 63.64 L131.10 63.45 L131.35 63.31 L131.60 63.22" fill="none" stroke="#ff3030" stroke-width="0.9"/>
<path d="M146.60 61.00 L146.90 50.25 L147.15 53.04 L147.40 55.44 L147.65 57.20 L147.90 58.49 L148.15 59.43 L148.40 60.12 L148.65 60.63 L148.90 60.99 L149.15 61.26 L149.40 61.46 L149.65 61.61 L149.90 61.71" fill="none" stroke="#ff3030" stroke-width="0.9"/>
<text x="106.0" y="39.6" font-size="7.3" textLength="21.4" lengthAdjust="spacingAndGlyphs">200ms</text>
<line x1="106.0" y1="41.3" x2="128.59474999999998" y2="41.3" stroke="#333" stroke-width="0.7"/>
<line x1="128.59" y1="37.4" x2="128.59" y2="45.2" stroke="#666" stroke-width="0.9"/>
<line x1="146.62" y1="37.4" x2="146.62" y2="45.2" stroke="#666" stroke-width="0.9"/>
<line x1="128.59" y1="41.3" x2="146.62" y2="41.3" stroke="#888" stroke-width="1"/>
<path d="M128.89 41.3 l5.6 -2.0 q-0.8 2.0 0 4.0 z" fill="#000"/>
<path d="M146.32 41.3 l-5.6 -2.0 q0.8 2.0 0 4.0 z" fill="#000"/>
<rect x="186.5" y="19.7" width="26.0" height="25.8" fill="#fff" stroke="#ababab" stroke-width="0.9"/>
<line x1="187.5" y1="26" x2="203" y2="26" stroke="#a8a8ff" stroke-width="1.1"/>
<text x="206.5" y="28.5" font-size="8" font-style="italic" style="stroke-width:0.1px">i<tspan font-size="5.2" dy="2.2">d</tspan></text>
<line x1="187.5" y1="38.5" x2="203" y2="38.5" stroke="#ff9a9a" stroke-width="1.1"/>
<text x="206.5" y="41.0" font-size="8" font-style="italic" style="stroke-width:0.1px">i<tspan font-size="5.2" dy="2.2">q</tspan></text>
<text transform="translate(18.6 86.4) rotate(-90)" font-size="12.1" text-anchor="middle">Dq-axis currents(A)</text>
<text x="128.3" y="195.8" font-size="12.3" text-anchor="middle">Time(s)</text>
<text x="116.2" y="219.5" font-size="11.8" text-anchor="middle">(<tspan font-weight="bold">a</tspan>)</text>
<line x1="352.50" y1="159.5" x2="352.50" y2="162.0" stroke="#7c7c7c" stroke-width="1"/>
<line x1="397.75" y1="159.5" x2="397.75" y2="162.0" stroke="#7c7c7c" stroke-width="1"/>
<line x1="443.00" y1="159.5" x2="443.00" y2="162.0" stroke="#7c7c7c" stroke-width="1"/>
<line x1="488.25" y1="159.5" x2="488.25" y2="162.0" stroke="#7c7c7c" stroke-width="1"/>
<line x1="533.50" y1="159.5" x2="533.50" y2="162.0" stroke="#7c7c7c" stroke-width="1"/>
<line x1="375.12" y1="159.5" x2="375.12" y2="161.0" stroke="#7c7c7c" stroke-width="1"/>
<line x1="420.38" y1="159.5" x2="420.38" y2="161.0" stroke="#7c7c7c" stroke-width="1"/>
<line x1="465.62" y1="159.5" x2="465.62" y2="161.0" stroke="#7c7c7c" stroke-width="1"/>
<line x1="510.88" y1="159.5" x2="510.88" y2="161.0" stroke="#7c7c7c" stroke-width="1"/>
<line x1="350.0" y1="159.50" x2="352.5" y2="159.50" stroke="#7c7c7c" stroke-width="1"/>
<line x1="350.0" y1="130.40" x2="352.5" y2="130.40" stroke="#7c7c7c" stroke-width="1"/>
<line x1="350.0" y1="101.30" x2="352.5" y2="101.30" stroke="#7c7c7c" stroke-width="1"/>
<line x1="350.0" y1="86.75" x2="352.5" y2="86.75" stroke="#7c7c7c" stroke-width="1"/>
<line x1="350.0" y1="72.20" x2="352.5" y2="72.20" stroke="#7c7c7c" stroke-width="1"/>
<line x1="350.0" y1="43.10" x2="352.5" y2="43.10" stroke="#7c7c7c" stroke-width="1"/>
<line x1="350.0" y1="14.00" x2="352.5" y2="14.00" stroke="#7c7c7c" stroke-width="1"/>
<line x1="351.0" y1="144.95" x2="352.5" y2="144.95" stroke="#7c7c7c" stroke-width="1"/>
<line x1="351.0" y1="115.85" x2="352.5" y2="115.85" stroke="#7c7c7c" stroke-width="1"/>
<line x1="351.0" y1="57.65" x2="352.5" y2="57.65" stroke="#7c7c7c" stroke-width="1"/>
<line x1="351.0" y1="28.55" x2="352.5" y2="28.55" stroke="#7c7c7c" stroke-width="1"/>
<rect x="352.5" y="14.0" width="181.0" height="145.5" fill="none" stroke="#7c7c7c" stroke-width="1"/>
<text transform="translate(352.50 171.8) scale(0.93 1)" font-size="12.0" text-anchor="middle">0.0</text>
<text transform="translate(397.75 171.8) scale(0.93 1)" font-size="12.0" text-anchor="middle">0.5</text>
<text transform="translate(443.00 171.8) scale(0.93 1)" font-size="12.0" text-anchor="middle">1.0</text>
<text transform="translate(488.25 171.8) scale(0.93 1)" font-size="12.0" text-anchor="middle">1.5</text>
<text transform="translate(533.50 171.8) scale(0.93 1)" font-size="12.0" text-anchor="middle">2.0</text>
<text transform="translate(348.2 162.55) scale(0.93 1)" font-size="12.0" text-anchor="end">250</text>
<text transform="translate(348.2 133.45) scale(0.93 1)" font-size="12.0" text-anchor="end">270</text>
<text transform="translate(348.2 104.35) scale(0.93 1)" font-size="12.0" text-anchor="end">290</text>
<text transform="translate(348.2 89.80) scale(0.93 1)" font-size="12.0" text-anchor="end">300</text>
<text transform="translate(348.2 75.25) scale(0.93 1)" font-size="12.0" text-anchor="end">310</text>
<text transform="translate(348.2 46.15) scale(0.93 1)" font-size="12.0" text-anchor="end">330</text>
<text transform="translate(348.2 17.05) scale(0.93 1)" font-size="12.0" text-anchor="end">350</text>
<polyline points="353.00,86.84 353.50,86.98 354.00,87.18 354.50,87.40 355.00,87.61 355.50,87.77 356.00,87.87 356.50,87.87 357.00,87.80 357.50,87.66 358.00,87.50 358.50,87.34 359.00,87.21 359.50,87.13 360.00,87.09 360.50,87.09 361.00,87.09 361.50,87.07 362.00,87.00 362.50,86.87 363.00,86.68 363.50,86.47 364.00,86.25 364.50,86.07 365.00,85.95 365.50,85.92 366.00,85.97 366.50,86.09 367.00,86.25 367.50,86.42 368.00,86.56 368.50,86.65 369.00,86.70 369.50,86.71 370.00,86.71 370.50,86.72 371.00,86.78 371.50,86.89 372.00,87.06 372.50,87.27 373.00,87.49 373.50,87.68 374.00,87.82 374.50,87.88 375.00,87.85 375.50,87.75 376.00,87.60 376.50,87.43 377.00,87.28 377.50,87.17 378.00,87.11 378.50,87.09 379.00,87.09 379.50,87.09 380.00,87.05 380.50,86.95 381.00,86.80 381.50,86.60 382.00,86.38 382.50,86.17 383.00,86.01 383.50,85.92 384.00,85.92 384.50,86.00 385.00,86.14 385.50,86.30 386.00,86.46 386.50,86.59 387.00,86.66 387.50,86.70 388.00,86.70 388.50,86.71 389.00,86.74 389.50,86.82 390.00,86.97 390.50,87.17 391.00,87.40 391.50,87.62 392.00,87.81 392.50,87.94 393.00,87.97 393.50,87.93 394.00,87.81 394.50,87.65 395.00,87.49 395.50,87.34 396.00,87.24 396.50,87.18 397.00,87.15 397.50,87.13 398.00,87.08 398.50,86.98 399.00,86.82 399.50,86.59 400.00,86.33 400.50,86.06 401.00,85.83 401.50,85.65 402.00,85.57 402.50,85.58 403.00,85.67 403.50,85.82 404.00,86.00 404.50,86.17 405.00,86.32 405.50,86.43 406.00,86.52 406.50,86.59 407.00,86.68 407.50,86.82 408.00,87.01 408.50,87.27 409.00,87.56 409.50,87.86 410.00,88.13 410.50,88.34 411.00,88.45 411.50,88.46 412.00,88.37 412.50,88.21 413.00,88.01 413.50,87.80 414.00,87.61 414.50,87.46 415.00,87.34 415.50,87.25 416.00,87.15 416.50,87.03 417.00,86.85 417.50,86.63 418.00,86.37 418.50,86.10 419.00,85.84 419.50,85.64 420.00,85.53 420.50,85.51 421.00,85.59 421.50,85.75 422.00,85.95 422.50,86.16 423.00,86.34 423.50,86.48 424.00,86.57 424.50,86.62 425.00,86.67 425.50,86.73 426.00,86.83 426.50,86.99 427.00,87.19 427.50,87.42 428.00,87.65 428.50,87.84 429.00,87.97 429.50,88.01 430.00,87.95 430.50,87.83 431.00,87.66 431.50,87.48 432.00,87.32 432.50,87.20 433.00,87.13 433.50,87.11 434.00,87.10 434.50,87.08 435.00,87.03 435.50,86.92 436.00,86.75 436.50,86.54 437.00,86.32 437.50,86.12 438.00,85.97 438.50,85.91 439.00,85.93 439.50,86.02 440.00,86.17 440.50,86.34 441.00,86.50 441.50,86.62 442.00,86.69 442.50,86.71 443.00,86.71 443.50,86.71 444.00,86.75 444.50,86.84 445.00,86.98 445.50,87.18 446.00,87.40 446.50,87.61 447.00,87.78 447.50,87.87 448.00,87.87 448.50,87.80 449.00,87.67 449.50,87.50 450.00,87.34 450.50,87.21 451.00,87.13 451.50,87.09 452.00,87.09 452.50,87.09 453.00,87.07 453.50,87.00 454.00,86.87 454.50,86.68 455.00,86.47 455.50,86.25 456.00,86.07 456.50,85.95 457.00,85.92 457.50,85.97 458.00,86.09 458.50,86.25 459.00,86.42 459.50,86.56 460.00,86.65 460.50,86.70 461.00,86.71 461.50,86.71 462.00,86.72 462.50,86.78 463.00,86.89 463.50,87.06 464.00,87.27 464.50,87.49 465.00,87.68 465.50,87.82 466.00,87.88 466.50,87.85 467.00,87.75 467.50,87.60 468.00,87.43 468.50,87.28 469.00,87.17 469.50,87.11 470.00,87.09 470.50,87.09 471.00,87.09 471.50,87.05 472.00,86.95 472.50,86.80 473.00,86.60 473.50,86.38 474.00,86.17 474.50,86.01 475.00,85.93 475.50,85.93 476.00,86.01 476.50,86.15 477.00,86.32 477.50,86.48 478.00,86.60 478.50,86.68 479.00,86.71 479.50,86.71 480.00,86.71 480.50,86.74 481.00,86.81 481.50,86.95 482.00,87.14 482.50,87.35 483.00,87.57 483.50,87.75 484.00,87.86 484.50,87.88 485.00,87.82 485.50,87.70 486.00,87.53 486.50,87.37 487.00,87.23 487.50,87.14 488.00,87.10 488.50,87.09 489.00,87.09 489.50,87.08 490.00,87.02 490.50,86.90 491.00,86.72 491.50,86.51 492.00,86.29 492.50,86.09 493.00,85.96 493.50,85.91 494.00,85.94 494.50,86.04 495.00,86.20 495.50,86.36 496.00,86.51 496.50,86.62 497.00,86.68 497.50,86.70 498.00,86.70 498.50,86.71 499.00,86.77 499.50,86.88 500.00,87.06 500.50,87.28 501.00,87.52 501.50,87.75 502.00,87.92 502.50,88.02 503.00,88.03 503.50,87.96 504.00,87.83 504.50,87.67 505.00,87.51 505.50,87.38 506.00,87.29 506.50,87.23 507.00,87.19 507.50,87.13 508.00,87.03 508.50,86.88 509.00,86.66 509.50,86.38 510.00,86.08 510.50,85.78 511.00,85.53 511.50,85.37 512.00,85.31 512.50,85.34 513.00,85.46 513.50,85.64 514.00,85.84 514.50,86.03 515.00,86.20 515.50,86.34 516.00,86.46 516.50,86.58 517.00,86.73 517.50,86.94 518.00,87.19 518.50,87.49 519.00,87.82 519.50,88.13 520.00,88.39 520.50,88.56 521.00,88.62 521.50,88.57 522.00,88.43 522.50,88.23 523.00,87.99 523.50,87.76 524.00,87.57 524.50,87.42 525.00,87.30 525.50,87.21 526.00,87.10 526.50,86.97 527.00,86.79 527.50,86.57 528.00,86.32 528.50,86.06 529.00,85.85 529.50,85.70 530.00,85.64 530.50,85.67 531.00,85.79 531.50,85.97 532.00,86.17 532.50,86.35" fill="none" stroke="#8c8cf0" stroke-width="1"/>
<text x="421.8" y="76.4" font-size="7.3" textLength="21.4" lengthAdjust="spacingAndGlyphs">200ms</text>
<line x1="421.8" y1="78.4" x2="444.40275" y2="78.4" stroke="#333" stroke-width="0.7"/>
<line x1="444.40" y1="74.7" x2="444.40" y2="82.4" stroke="#666" stroke-width="0.9"/>
<line x1="462.10" y1="74.7" x2="462.10" y2="82.4" stroke="#666" stroke-width="0.9"/>
<line x1="444.40" y1="78.4" x2="462.10" y2="78.4" stroke="#888" stroke-width="1"/>
<path d="M444.70 78.4 l5.6 -2.0 q-0.8 2.0 0 4.0 z" fill="#000"/>
<path d="M461.80 78.4 l-5.6 -2.0 q0.8 2.0 0 4.0 z" fill="#000"/>
<rect x="498.5" y="23.7" width="26.200000000000045" height="11.8" fill="#fff" stroke="#ababab" stroke-width="0.9"/>
<line x1="499.6" y1="29.9" x2="514.9" y2="29.9" stroke="#b0b0ff" stroke-width="1.1"/>
<text x="517.8" y="33.0" font-size="8" font-style="italic" style="stroke-width:0.1px">ω</text>
<text transform="translate(327.3 86.9) rotate(-90)" font-size="12.2" text-anchor="middle">Rotor speed(rpm)</text>
<text x="443.4" y="195.3" font-size="12.3" text-anchor="middle">Time(s)</text>
<text x="428.1" y="220.2" font-size="11.8" text-anchor="middle">(<tspan font-weight="bold">b</tspan>)</text>
<line x1="40.5" y1="363.90" x2="220.5" y2="363.90" stroke="#f6f6f6" stroke-width="1"/>
<line x1="40.5" y1="334.80" x2="220.5" y2="334.80" stroke="#f6f6f6" stroke-width="1"/>
<line x1="40.5" y1="305.70" x2="220.5" y2="305.70" stroke="#f6f6f6" stroke-width="1"/>
<line x1="40.5" y1="276.60" x2="220.5" y2="276.60" stroke="#f6f6f6" stroke-width="1"/>
<line x1="40.50" y1="393.0" x2="40.50" y2="395.5" stroke="#7c7c7c" stroke-width="1"/>
<line x1="85.50" y1="393.0" x2="85.50" y2="395.5" stroke="#7c7c7c" stroke-width="1"/>
<line x1="130.50" y1="393.0" x2="130.50" y2="395.5" stroke="#7c7c7c" stroke-width="1"/>
<line x1="175.50" y1="393.0" x2="175.50" y2="395.5" stroke="#7c7c7c" stroke-width="1"/>
<line x1="220.50" y1="393.0" x2="220.50" y2="395.5" stroke="#7c7c7c" stroke-width="1"/>
<line x1="63.00" y1="393.0" x2="63.00" y2="394.5" stroke="#7c7c7c" stroke-width="1"/>
<line x1="108.00" y1="393.0" x2="108.00" y2="394.5" stroke="#7c7c7c" stroke-width="1"/>
<line x1="153.00" y1="393.0" x2="153.00" y2="394.5" stroke="#7c7c7c" stroke-width="1"/>
<line x1="198.00" y1="393.0" x2="198.00" y2="394.5" stroke="#7c7c7c" stroke-width="1"/>
<line x1="38.0" y1="393.00" x2="40.5" y2="393.00" stroke="#7c7c7c" stroke-width="1"/>
<line x1="38.0" y1="363.90" x2="40.5" y2="363.90" stroke="#7c7c7c" stroke-width="1"/>
<line x1="38.0" y1="334.80" x2="40.5" y2="334.80" stroke="#7c7c7c" stroke-width="1"/>
<line x1="38.0" y1="305.70" x2="40.5" y2="305.70" stroke="#7c7c7c" stroke-width="1"/>
<line x1="38.0" y1="276.60" x2="40.5" y2="276.60" stroke="#7c7c7c" stroke-width="1"/>
<line x1="38.0" y1="247.50" x2="40.5" y2="247.50" stroke="#7c7c7c" stroke-width="1"/>
<line x1="39.0" y1="378.45" x2="40.5" y2="378.45" stroke="#7c7c7c" stroke-width="1"/>
<line x1="39.0" y1="349.35" x2="40.5" y2="349.35" stroke="#7c7c7c" stroke-width="1"/>
<line x1="39.0" y1="320.25" x2="40.5" y2="320.25" stroke="#7c7c7c" stroke-width="1"/>
<line x1="39.0" y1="291.15" x2="40.5" y2="291.15" stroke="#7c7c7c" stroke-width="1"/>
<line x1="39.0" y1="262.05" x2="40.5" y2="262.05" stroke="#7c7c7c" stroke-width="1"/>
<rect x="40.5" y="247.5" width="180.0" height="145.5" fill="none" stroke="#7c7c7c" stroke-width="1"/>
<text transform="translate(40.50 405.3) scale(0.93 1)" font-size="12.0" text-anchor="middle">0.0</text>
<text transform="translate(85.50 405.3) scale(0.93 1)" font-size="12.0" text-anchor="middle">0.5</text>
<text transform="translate(130.50 405.3) scale(0.93 1)" font-size="12.0" text-anchor="middle">1.0</text>
<text transform="translate(175.50 405.3) scale(0.93 1)" font-size="12.0" text-anchor="middle">1.5</text>
<text transform="translate(220.50 405.3) scale(0.93 1)" font-size="12.0" text-anchor="middle">2.0</text>
<text transform="translate(36.2 395.95) scale(0.93 1)" font-size="12.0" text-anchor="end">−15</text>
<text transform="translate(36.2 366.85) scale(0.93 1)" font-size="12.0" text-anchor="end">0</text>
<text transform="translate(36.2 337.75) scale(0.93 1)" font-size="12.0" text-anchor="end">15</text>
<text transform="translate(36.2 308.65) scale(0.93 1)" font-size="12.0" text-anchor="end">30</text>
<text transform="translate(36.2 279.55) scale(0.93 1)" font-size="12.0" text-anchor="end">45</text>
<text transform="translate(36.2 250.45) scale(0.93 1)" font-size="12.0" text-anchor="end">60</text>
<path d="M40.50 370.09 L41.00 370.06 L41.50 370.22 L42.00 370.01 L42.50 370.03 L43.00 370.19 L43.50 370.21 L44.00 370.07 L44.50 370.11 L45.00 370.23 L45.50 370.07 L46.00 370.11 L46.50 370.17 L47.00 369.96 L47.50 370.15 L48.00 370.00 L48.50 370.06 L49.00 370.09 L49.50 370.17 L50.00 370.03 L50.50 370.15 L51.00 370.10 L51.50 370.17 L52.00 370.13 L52.50 369.95 L53.00 370.07 L53.50 370.08 L54.00 370.12 L54.50 370.21 L55.00 370.14 L55.50 370.18 L56.00 370.17 L56.50 370.04 L57.00 370.20 L57.50 370.21 L58.00 369.99 L58.50 370.11 L59.00 370.00 L59.50 370.14 L60.00 370.13 L60.50 370.18 L61.00 370.09 L61.50 370.11 L62.00 370.03 L62.50 369.97 L63.00 370.13 L63.50 370.06 L64.00 369.98 L64.50 370.09 L65.00 370.16 L65.50 370.13 L66.00 370.07 L66.50 370.13 L67.00 370.19 L67.50 370.15 L68.00 370.21 L68.50 370.13 L69.00 370.15 L69.50 370.15 L70.00 370.20 L70.50 370.16 L71.00 369.97 L71.50 369.98 L72.00 370.20 L72.50 370.23 L73.00 370.04 L73.50 370.12 L74.00 370.03 L74.50 369.99 L75.00 370.05 L75.50 370.21 L76.00 370.02 L76.50 370.23 L77.00 370.19 L77.50 370.15 L78.00 370.23 L78.50 370.05 L79.00 369.99 L79.50 370.03 L80.00 370.11 L80.50 370.14 L81.00 369.99 L81.50 370.16 L82.00 369.99 L82.50 370.23 L83.00 370.21 L83.50 370.18 L84.00 370.02 L84.50 370.03 L85.00 370.02 L85.50 370.16 L86.00 369.96 L86.50 369.96 L87.00 370.02 L87.50 370.05 L88.00 370.23 L88.50 370.11 L89.00 369.96 L89.50 370.01 L90.00 370.03 L90.50 370.16 L91.00 369.95 L91.50 370.08 L92.00 370.22 L92.50 370.12 L93.00 370.15 L93.50 370.03 L94.00 370.17 L94.50 370.09 L95.00 369.96 L95.50 370.15 L96.00 370.20 L96.50 370.14 L97.00 370.08 L97.50 370.19 L98.00 370.06 L98.50 370.01 L99.00 370.21 L99.50 370.13 L100.00 370.22 L100.50 370.18 L101.00 370.11 L101.50 370.14 L102.00 370.13 L102.50 370.22 L103.00 369.94 L103.50 370.22 L104.00 369.95 L104.50 370.21 L105.00 370.11 L105.50 370.08 L106.00 369.97 L106.50 370.05 L107.00 370.05 L107.50 370.17 L108.00 370.23 L108.50 369.99 L109.00 370.19 L109.50 369.99 L110.00 370.19 L110.50 369.99 L111.00 370.14 L111.50 369.99 L112.00 370.13 L112.50 370.13 L113.00 370.17 L113.50 370.07 L114.00 370.00 L114.50 369.97 L115.00 370.09 L115.50 370.19 L116.00 370.07 L116.50 370.04 L117.00 370.11 L117.50 370.22 L118.00 370.11 L118.50 370.03 L119.00 369.99 L119.50 370.01 L120.00 370.16 L120.50 370.09 L121.00 370.14 L121.50 370.04 L122.00 369.97 L122.50 370.15 L123.00 370.07 L123.50 370.18 L124.00 370.14 L124.50 369.95 L125.00 369.98 L125.50 369.95 L126.00 370.00 L126.50 370.04 L127.00 370.15 L127.50 369.96 L128.00 370.05 L128.50 370.14 L129.00 370.23 L129.50 370.04 L130.00 370.22 L130.50 370.13 L131.00 370.12 L131.50 370.07 L132.00 370.21 L132.50 369.98 L133.00 370.21 L133.50 370.17 L134.00 370.08 L134.50 370.10 L135.00 370.17 L135.50 370.21 L136.00 370.07 L136.50 370.12 L137.00 370.11 L137.50 370.08 L138.00 370.01 L138.50 369.94 L139.00 370.21 L139.50 370.12 L140.00 369.95 L140.50 370.01 L141.00 370.01 L141.50 370.17 L142.00 370.24 L142.50 370.18 L143.00 370.03 L143.50 369.98 L144.00 369.98 L144.50 369.97 L145.00 370.19 L145.50 370.14 L146.00 370.04 L146.50 370.21 L147.00 370.02 L147.50 370.03 L148.00 370.06 L148.50 370.08 L149.00 370.21 L149.50 370.04 L150.00 370.18 L150.50 369.99 L151.00 370.21 L151.50 370.21 L152.00 370.19 L152.50 370.15 L153.00 370.13 L153.50 369.98 L154.00 370.04 L154.50 369.96 L155.00 370.14 L155.50 370.09 L156.00 370.00 L156.50 370.19 L157.00 370.04 L157.50 370.10 L158.00 369.99 L158.50 369.98 L159.00 370.22 L159.50 370.18 L160.00 370.07 L160.50 370.19 L161.00 370.10 L161.50 370.13 L162.00 370.24 L162.50 370.14 L163.00 370.10 L163.50 370.23 L164.00 370.04 L164.50 370.16 L165.00 370.16 L165.50 370.08 L166.00 369.94 L166.50 370.07 L167.00 369.98 L167.50 370.05 L168.00 370.13 L168.50 370.00 L169.00 369.96 L169.50 370.15 L170.00 370.02 L170.50 370.05 L171.00 370.08 L171.50 370.22 L172.00 370.15 L172.50 370.10 L173.00 370.17 L173.50 370.14 L174.00 370.24 L174.50 370.11 L175.00 370.07 L175.50 370.19 L176.00 370.15 L176.50 370.02 L177.00 369.96 L177.50 369.97 L178.00 370.22 L178.50 370.07 L179.00 370.13 L179.50 370.11 L180.00 370.22 L180.50 369.97 L181.00 370.16 L181.50 370.19 L182.00 370.03 L182.50 370.12 L183.00 370.06 L183.50 370.05 L184.00 370.02 L184.50 370.06 L185.00 370.00 L185.50 370.14 L186.00 370.19 L186.50 369.98 L187.00 369.97 L187.50 370.14 L188.00 370.05 L188.50 370.04 L189.00 370.22 L189.50 370.23 L190.00 370.14 L190.50 370.06 L191.00 370.10 L191.50 369.96 L192.00 369.95 L192.50 370.06 L193.00 370.14 L193.50 370.20 L194.00 370.01 L194.50 370.00 L195.00 370.08 L195.50 370.08 L196.00 370.06 L196.50 370.02 L197.00 370.03 L197.50 370.01 L198.00 370.01 L198.50 370.11 L199.00 370.09 L199.50 370.20 L200.00 370.10 L200.50 370.01 L201.00 369.95 L201.50 370.02 L202.00 370.23 L202.50 370.22 L203.00 370.08 L203.50 369.96 L204.00 370.20 L204.50 370.02 L205.00 370.19 L205.50 370.01 L206.00 369.95 L206.50 370.05 L207.00 370.00 L207.50 370.14 L208.00 370.21 L208.50 370.22 L209.00 370.12 L209.50 370.22 L210.00 370.12 L210.50 369.96 L211.00 370.17 L211.50 370.16 L212.00 370.17 L212.50 370.01 L213.00 370.15 L213.50 370.18 L214.00 370.19 L214.50 369.98 L215.00 370.02 L215.50 370.16 L216.00 370.10 L216.50 370.19 L217.00 370.06 L217.50 370.07 L218.00 370.18 L218.50 370.13 L219.00 369.98 L219.50 369.98 L220.00 370.15 L220.50 370.21 L220.50 374.61 L220.00 374.61 L219.50 375.17 L219.00 375.16 L218.50 375.52 L218.00 375.66 L217.50 375.71 L217.00 375.55 L216.50 375.52 L216.00 375.41 L215.50 375.02 L215.00 374.91 L214.50 374.46 L214.00 374.81 L213.50 374.99 L213.00 375.36 L212.50 375.44 L212.00 375.44 L211.50 375.57 L211.00 375.50 L210.50 375.52 L210.00 375.46 L209.50 375.14 L209.00 374.98 L208.50 374.63 L208.00 374.71 L207.50 375.04 L207.00 375.16 L206.50 375.32 L206.00 375.51 L205.50 375.51 L205.00 375.44 L204.50 375.64 L204.00 375.27 L203.50 375.13 L203.00 374.83 L202.50 374.64 L202.00 374.48 L201.50 374.74 L201.00 375.04 L200.50 375.29 L200.00 375.53 L199.50 375.43 L199.00 375.72 L198.50 375.46 L198.00 375.54 L197.50 375.15 L197.00 375.05 L196.50 374.63 L196.00 374.48 L195.50 374.86 L195.00 375.10 L194.50 375.27 L194.00 375.34 L193.50 375.45 L193.00 375.47 L192.50 375.61 L192.00 375.30 L191.50 375.27 L191.00 374.88 L190.50 374.68 L190.00 374.47 L189.50 374.80 L189.00 375.00 L188.50 375.21 L188.00 375.40 L187.50 375.62 L187.00 375.51 L186.50 375.60 L186.00 375.47 L185.50 375.18 L185.00 375.19 L184.50 374.69 L184.00 374.67 L183.50 374.61 L183.00 375.08 L182.50 375.12 L182.00 375.32 L181.50 375.46 L181.00 375.45 L180.50 375.51 L180.00 375.48 L179.50 375.44 L179.00 375.20 L178.50 375.01 L178.00 374.49 L177.50 374.67 L177.00 374.87 L176.50 375.18 L176.00 375.31 L175.50 375.38 L175.00 375.52 L174.50 375.57 L174.00 375.62 L173.50 375.26 L173.00 375.09 L172.50 374.88 L172.00 374.79 L171.50 374.54 L171.00 374.84 L170.50 375.08 L170.00 375.33 L169.50 375.57 L169.00 375.63 L168.50 375.70 L168.00 375.46 L167.50 375.44 L167.00 375.29 L166.50 375.05 L166.00 374.56 L165.50 374.67 L165.00 374.83 L164.50 375.07 L164.00 375.23 L163.50 375.35 L163.00 375.71 L162.50 375.45 L162.00 375.57 L161.50 375.39 L161.00 375.28 L160.50 374.98 L160.00 374.62 L159.50 374.59 L159.00 374.71 L158.50 375.06 L158.00 375.22 L157.50 375.33 L157.00 375.52 L156.50 375.69 L156.00 375.42 L155.50 375.57 L155.00 375.19 L154.50 374.93 L154.00 374.91 L153.50 374.54 L153.00 374.59 L152.50 375.03 L152.00 375.23 L151.50 375.49 L151.00 375.39 L150.50 375.61 L150.00 375.56 L149.50 375.41 L149.00 375.46 L148.50 375.21 L148.00 374.75 L147.50 374.45 L147.00 374.78 L146.50 374.88 L146.00 375.26 L145.50 375.45 L145.00 375.58 L144.50 375.69 L144.00 375.60 L143.50 375.55 L143.00 375.35 L142.50 375.11 L142.00 374.95 L141.50 374.61 L141.00 374.45 L140.50 374.76 L140.00 375.14 L139.50 375.23 L139.00 375.59 L138.50 375.64 L138.00 375.47 L137.50 375.59 L137.00 375.51 L136.50 375.08 L136.00 374.85 L135.50 374.71 L135.00 374.55 L134.50 374.83 L134.00 375.00 L133.50 375.17 L133.00 375.57 L132.50 375.58 L132.00 375.50 L131.50 375.52 L131.00 375.44 L130.50 375.28 L130.00 375.07 L129.50 374.74 L129.00 374.38 L128.50 374.87 L128.00 374.96 L127.50 375.25 L127.00 375.45 L126.50 375.58 L126.00 375.46 L125.50 375.60 L125.00 375.60 L124.50 375.42 L124.00 375.06 L123.50 374.69 L123.00 374.48 L122.50 374.68 L122.00 374.87 L121.50 375.31 L121.00 375.38 L120.50 375.51 L120.00 375.64 L119.50 375.55 L119.00 375.59 L118.50 375.18 L118.00 375.03 L117.50 374.73 L117.00 374.73 L116.50 374.54 L116.00 374.79 L115.50 375.11 L115.00 375.37 L114.50 375.64 L114.00 375.64 L113.50 375.62 L113.00 375.37 L112.50 375.47 L112.00 375.18 L111.50 374.87 L111.00 374.55 L110.50 374.66 L110.00 374.95 L109.50 375.25 L109.00 375.37 L108.50 375.43 L108.00 375.66 L107.50 375.48 L107.00 375.46 L106.50 375.53 L106.00 375.25 L105.50 374.83 L105.00 374.61 L104.50 374.53 L104.00 374.83 L103.50 375.14 L103.00 375.37 L102.50 375.31 L102.00 375.46 L101.50 375.58 L101.00 375.43 L100.50 375.49 L100.00 375.19 L99.50 374.94 L99.00 374.69 L98.50 374.57 L98.00 374.75 L97.50 375.07 L97.00 375.33 L96.50 375.53 L96.00 375.57 L95.50 375.71 L95.00 375.52 L94.50 375.44 L94.00 375.22 L93.50 375.12 L93.00 374.70 L92.50 374.44 L92.00 374.66 L91.50 374.90 L91.00 375.25 L90.50 375.42 L90.00 375.62 L89.50 375.45 L89.00 375.46 L88.50 375.49 L88.00 375.39 L87.50 375.11 L87.00 374.97 L86.50 374.64 L86.00 374.62 L85.50 374.80 L85.00 375.27 L84.50 375.34 L84.00 375.39 L83.50 375.71 L83.00 375.67 L82.50 375.43 L82.00 375.40 L81.50 375.03 L81.00 375.00 L80.50 374.49 L80.00 374.64 L79.50 374.79 L79.00 375.14 L78.50 375.24 L78.00 375.43 L77.50 375.54 L77.00 375.50 L76.50 375.39 L76.00 375.47 L75.50 375.34 L75.00 374.88 L74.50 374.66 L74.00 374.45 L73.50 374.86 L73.00 375.03 L72.50 375.35 L72.00 375.39 L71.50 375.67 L71.00 375.67 L70.50 375.52 L70.00 375.50 L69.50 375.17 L69.00 374.89 L68.50 374.76 L68.00 374.49 L67.50 374.81 L67.00 375.13 L66.50 375.13 L66.00 375.38 L65.50 375.59 L65.00 375.67 L64.50 375.57 L64.00 375.35 L63.50 375.21 L63.00 375.00 L62.50 374.84 L62.00 374.46 L61.50 374.59 L61.00 374.89 L60.50 375.35 L60.00 375.54 L59.50 375.60 L59.00 375.49 L58.50 375.67 L58.00 375.37 L57.50 375.26 L57.00 375.18 L56.50 374.82 L56.00 374.45 L55.50 374.58 L55.00 374.84 L54.50 375.26 L54.00 375.24 L53.50 375.48 L53.00 375.47 L52.50 375.52 L52.00 375.42 L51.50 375.27 L51.00 375.25 L50.50 375.03 L50.00 374.56 L49.50 374.55 L49.00 375.00 L48.50 375.26 L48.00 375.27 L47.50 375.61 L47.00 375.68 L46.50 375.45 L46.00 375.57 L45.50 375.54 L45.00 375.33 L44.50 374.94 L44.00 374.66 L43.50 374.65 L43.00 374.74 L42.50 375.03 L42.00 375.24 L41.50 375.31 L41.00 375.65 L40.50 375.69 Z" fill="#7676f4" fill-opacity="1.0"/>
<path d="M40.50 305.27 L41.00 305.23 L41.50 305.29 L42.00 305.02 L42.50 305.23 L43.00 305.07 L43.50 304.97 L44.00 305.37 L44.50 305.17 L45.00 305.29 L45.50 305.36 L46.00 305.60 L46.50 305.12 L47.00 305.25 L47.50 305.27 L48.00 305.28 L48.50 305.32 L49.00 305.18 L49.50 305.28 L50.00 305.03 L50.50 305.41 L51.00 305.10 L51.50 305.44 L52.00 305.47 L52.50 305.25 L53.00 305.10 L53.50 305.15 L54.00 305.02 L54.50 305.12 L55.00 305.08 L55.50 305.02 L56.00 305.29 L56.50 305.31 L57.00 305.35 L57.50 305.37 L58.00 305.11 L58.50 304.97 L59.00 305.18 L59.50 305.15 L60.00 305.27 L60.50 304.97 L61.00 304.97 L61.50 305.11 L62.00 305.16 L62.50 305.36 L63.00 305.55 L63.50 305.15 L64.00 305.31 L64.50 305.16 L65.00 304.93 L65.50 304.98 L66.00 305.10 L66.50 305.06 L67.00 305.11 L67.50 305.34 L68.00 305.35 L68.50 305.28 L69.00 305.28 L69.50 305.47 L70.00 305.14 L70.50 305.01 L71.00 304.90 L71.50 305.25 L72.00 305.14 L72.50 304.98 L73.00 304.99 L73.50 305.27 L74.00 305.08 L74.50 305.44 L75.00 305.49 L75.50 305.17 L76.00 305.38 L76.50 305.08 L77.00 304.96 L77.50 305.10 L78.00 304.99 L78.50 305.06 L79.00 305.17 L79.50 305.27 L80.00 305.30 L80.50 305.42 L81.00 305.52 L81.50 305.22 L82.00 305.44 L82.50 304.86 L83.00 304.99 L83.50 305.24 L84.00 304.97 L84.50 305.21 L85.00 305.20 L85.50 305.10 L86.00 305.28 L86.50 305.11 L87.00 305.35 L87.50 305.11 L88.00 305.12 L88.50 305.09 L89.00 305.14 L89.50 304.96 L90.00 305.10 L90.50 304.95 L91.00 305.41 L91.50 305.22 L92.00 305.07 L92.50 305.28 L93.00 305.33 L93.50 305.32 L94.00 305.27 L94.50 305.08 L95.00 304.97 L95.50 304.95 L96.00 305.31 L96.50 305.36 L97.00 305.38 L97.50 305.08 L98.00 305.46 L98.50 305.16 L99.00 305.52 L99.50 305.37 L100.00 305.11 L100.50 304.84 L101.00 305.14 L101.50 305.33 L102.00 305.23 L102.50 305.24 L103.00 305.00 L103.50 305.20 L104.00 305.46 L104.50 305.08 L105.00 305.12 L105.50 305.47 L106.00 305.34 L106.50 305.04 L107.00 305.01 L107.50 304.94 L108.00 304.91 L108.50 305.37 L109.00 305.16 L109.50 305.17 L110.00 305.35 L110.50 305.37 L111.00 305.14 L111.50 305.35 L112.00 305.38 L112.50 305.25 L113.00 304.99 L113.50 304.90 L114.00 305.07 L114.50 304.93 L115.00 305.03 L115.50 305.12 L116.00 305.34 L116.50 305.10 L117.00 305.09 L117.50 305.53 L118.00 305.21 L118.50 305.07 L119.00 305.18 L119.50 304.99 L120.00 305.34 L120.50 305.38 L121.00 305.28 L121.50 305.16 L122.00 305.21 L122.50 305.06 L123.00 305.13 L123.50 305.18 L124.00 305.41 L124.50 305.09 L125.00 305.19 L125.50 305.29 L126.00 305.00 L126.50 305.06 L127.00 305.01 L127.50 304.99 L128.00 305.02 L128.50 305.37 L129.00 305.17 L129.50 305.11 L130.00 305.36 L130.50 304.98 L130.50 308.05 L130.00 308.21 L129.50 307.82 L129.00 308.02 L128.50 307.95 L128.00 308.04 L127.50 308.27 L127.00 307.84 L126.50 307.83 L126.00 307.99 L125.50 308.01 L125.00 308.05 L124.50 308.10 L124.00 307.79 L123.50 308.27 L123.00 307.85 L122.50 307.94 L122.00 307.85 L121.50 307.94 L121.00 307.89 L120.50 308.19 L120.00 308.12 L119.50 307.85 L119.00 308.23 L118.50 308.11 L118.00 308.25 L117.50 307.82 L117.00 307.88 L116.50 307.85 L116.00 307.88 L115.50 308.11 L115.00 308.03 L114.50 308.06 L114.00 307.87 L113.50 307.81 L113.00 307.80 L112.50 307.99 L112.00 308.22 L111.50 308.24 L111.00 308.07 L110.50 308.13 L110.00 308.17 L109.50 307.94 L109.00 307.98 L108.50 307.93 L108.00 308.05 L107.50 307.88 L107.00 307.96 L106.50 308.02 L106.00 307.96 L105.50 307.80 L105.00 307.90 L104.50 308.18 L104.00 307.93 L103.50 307.99 L103.00 308.05 L102.50 307.90 L102.00 307.91 L101.50 308.27 L101.00 308.04 L100.50 307.85 L100.00 308.18 L99.50 308.07 L99.00 308.12 L98.50 308.02 L98.00 308.12 L97.50 308.06 L97.00 307.82 L96.50 308.18 L96.00 307.89 L95.50 308.16 L95.00 308.05 L94.50 307.80 L94.00 308.15 L93.50 308.19 L93.00 308.02 L92.50 308.22 L92.00 307.98 L91.50 308.01 L91.00 308.07 L90.50 308.15 L90.00 308.02 L89.50 307.97 L89.00 307.81 L88.50 308.11 L88.00 308.13 L87.50 307.87 L87.00 308.07 L86.50 307.95 L86.00 308.10 L85.50 307.92 L85.00 307.96 L84.50 307.80 L84.00 308.08 L83.50 307.99 L83.00 308.21 L82.50 307.82 L82.00 307.90 L81.50 307.91 L81.00 307.87 L80.50 308.06 L80.00 307.78 L79.50 307.95 L79.00 307.89 L78.50 307.96 L78.00 307.85 L77.50 308.18 L77.00 308.00 L76.50 308.27 L76.00 307.82 L75.50 308.04 L75.00 307.95 L74.50 307.90 L74.00 307.84 L73.50 308.19 L73.00 307.80 L72.50 308.22 L72.00 308.10 L71.50 308.19 L71.00 307.90 L70.50 308.04 L70.00 308.04 L69.50 307.85 L69.00 308.01 L68.50 308.14 L68.00 308.23 L67.50 308.08 L67.00 308.05 L66.50 307.94 L66.00 308.08 L65.50 307.97 L65.00 307.97 L64.50 308.09 L64.00 308.27 L63.50 308.03 L63.00 308.15 L62.50 308.26 L62.00 308.05 L61.50 307.94 L61.00 307.80 L60.50 308.17 L60.00 307.83 L59.50 307.90 L59.00 308.08 L58.50 308.24 L58.00 307.78 L57.50 307.85 L57.00 307.97 L56.50 308.26 L56.00 307.94 L55.50 308.13 L55.00 308.27 L54.50 308.05 L54.00 308.10 L53.50 307.78 L53.00 308.05 L52.50 308.03 L52.00 307.81 L51.50 307.86 L51.00 308.14 L50.50 308.26 L50.00 307.95 L49.50 308.02 L49.00 307.83 L48.50 308.15 L48.00 308.12 L47.50 307.99 L47.00 308.02 L46.50 308.22 L46.00 308.27 L45.50 307.83 L45.00 307.89 L44.50 307.79 L44.00 308.17 L43.50 307.79 L43.00 308.22 L42.50 308.24 L42.00 307.82 L41.50 307.86 L41.00 308.14 L40.50 308.23 Z" fill="#ff1e1e" fill-opacity="1.0"/>
<path d="M148.50 305.23 L149.00 305.17 L149.50 304.91 L150.00 304.90 L150.50 305.10 L151.00 305.25 L151.50 305.13 L152.00 305.32 L152.50 305.39 L153.00 305.46 L153.50 305.43 L154.00 305.33 L154.50 305.00 L155.00 305.01 L155.50 305.32 L156.00 305.32 L156.50 305.33 L157.00 305.25 L157.50 305.12 L158.00 305.40 L158.50 305.35 L159.00 305.11 L159.50 305.50 L160.00 305.17 L160.50 305.03 L161.00 305.25 L161.50 305.25 L162.00 305.11 L162.50 305.30 L163.00 305.32 L163.50 305.34 L164.00 305.24 L164.50 305.51 L165.00 305.30 L165.50 305.29 L166.00 305.49 L166.50 305.20 L167.00 305.29 L167.50 305.08 L168.00 304.92 L168.50 305.11 L169.00 305.13 L169.50 305.10 L170.00 305.36 L170.50 305.02 L171.00 305.24 L171.50 305.17 L172.00 305.20 L172.50 304.82 L173.00 304.84 L173.50 305.13 L174.00 305.24 L174.50 305.06 L175.00 305.25 L175.50 305.36 L176.00 305.32 L176.50 305.02 L177.00 305.31 L177.50 305.19 L178.00 305.23 L178.50 305.18 L179.00 304.88 L179.50 305.29 L180.00 305.19 L180.50 304.91 L181.00 305.05 L181.50 305.04 L182.00 305.03 L182.50 305.10 L183.00 305.25 L183.50 305.16 L184.00 305.17 L184.50 304.80 L185.00 304.83 L185.50 304.85 L186.00 305.24 L186.50 305.28 L187.00 305.20 L187.50 305.21 L188.00 305.14 L188.50 305.32 L189.00 305.15 L189.50 305.11 L190.00 305.40 L190.50 304.95 L191.00 305.14 L191.50 304.92 L192.00 305.36 L192.50 305.39 L193.00 305.02 L193.50 305.15 L194.00 305.32 L194.50 305.34 L195.00 305.24 L195.50 305.53 L196.00 305.26 L196.50 304.95 L197.00 305.25 L197.50 305.32 L198.00 305.27 L198.50 304.92 L199.00 305.31 L199.50 305.15 L200.00 305.29 L200.50 305.04 L201.00 305.05 L201.50 305.16 L202.00 305.34 L202.50 305.19 L203.00 305.08 L203.50 305.21 L204.00 305.32 L204.50 304.96 L205.00 305.24 L205.50 305.01 L206.00 305.45 L206.50 305.29 L207.00 305.37 L207.50 305.26 L208.00 305.34 L208.50 304.82 L209.00 305.12 L209.50 305.31 L210.00 305.02 L210.50 305.17 L211.00 304.98 L211.50 305.08 L212.00 305.32 L212.50 305.04 L213.00 305.47 L213.50 305.29 L214.00 305.41 L214.50 304.96 L215.00 304.92 L215.50 305.06 L216.00 304.88 L216.50 304.99 L217.00 305.24 L217.50 305.10 L218.00 305.35 L218.50 305.23 L219.00 305.15 L219.50 305.51 L220.00 305.17 L220.50 304.91 L220.50 307.86 L220.00 307.86 L219.50 308.03 L219.00 307.95 L218.50 308.19 L218.00 307.86 L217.50 308.12 L217.00 308.26 L216.50 308.11 L216.00 308.10 L215.50 307.99 L215.00 307.92 L214.50 307.92 L214.00 308.15 L213.50 307.80 L213.00 308.07 L212.50 308.22 L212.00 307.84 L211.50 307.79 L211.00 308.14 L210.50 308.15 L210.00 308.05 L209.50 308.19 L209.00 308.26 L208.50 308.03 L208.00 308.11 L207.50 307.96 L207.00 308.11 L206.50 308.25 L206.00 308.09 L205.50 308.11 L205.00 308.24 L204.50 308.03 L204.00 308.05 L203.50 307.95 L203.00 308.18 L202.50 308.25 L202.00 307.78 L201.50 307.86 L201.00 307.87 L200.50 308.03 L200.00 308.03 L199.50 308.22 L199.00 308.22 L198.50 307.96 L198.00 307.91 L197.50 308.19 L197.00 308.12 L196.50 308.18 L196.00 308.00 L195.50 307.91 L195.00 307.92 L194.50 308.20 L194.00 307.88 L193.50 308.00 L193.00 307.99 L192.50 307.83 L192.00 308.02 L191.50 308.17 L191.00 308.07 L190.50 308.19 L190.00 307.82 L189.50 308.19 L189.00 308.12 L188.50 308.17 L188.00 308.13 L187.50 308.23 L187.00 307.89 L186.50 307.88 L186.00 308.20 L185.50 308.17 L185.00 307.83 L184.50 308.04 L184.00 307.93 L183.50 308.17 L183.00 307.99 L182.50 308.18 L182.00 308.15 L181.50 308.24 L181.00 307.84 L180.50 308.11 L180.00 307.86 L179.50 308.13 L179.00 308.17 L178.50 308.09 L178.00 308.09 L177.50 308.23 L177.00 308.02 L176.50 308.17 L176.00 308.26 L175.50 307.89 L175.00 307.85 L174.50 307.85 L174.00 308.14 L173.50 307.82 L173.00 307.98 L172.50 307.78 L172.00 308.01 L171.50 307.95 L171.00 308.12 L170.50 307.80 L170.00 308.08 L169.50 307.81 L169.00 308.17 L168.50 307.89 L168.00 307.82 L167.50 307.92 L167.00 307.97 L166.50 307.91 L166.00 308.15 L165.50 308.12 L165.00 308.17 L164.50 308.25 L164.00 308.22 L163.50 308.21 L163.00 307.84 L162.50 307.98 L162.00 307.96 L161.50 308.04 L161.00 308.01 L160.50 308.04 L160.00 307.83 L159.50 307.82 L159.00 308.02 L158.50 308.20 L158.00 308.25 L157.50 307.86 L157.00 307.96 L156.50 308.06 L156.00 308.10 L155.50 308.03 L155.00 308.01 L154.50 308.17 L154.00 307.82 L153.50 307.81 L153.00 308.17 L152.50 308.15 L152.00 308.00 L151.50 307.80 L151.00 308.25 L150.50 308.26 L150.00 307.79 L149.50 307.89 L149.00 308.22 L148.50 307.85 Z" fill="#ff1e1e" fill-opacity="1.0"/>
<rect x="130.9" y="289.99" width="17.8" height="73.91" fill="#ff0000"/>
<text x="108.3" y="280.1" font-size="7.3" textLength="21.4" lengthAdjust="spacingAndGlyphs">200ms</text>
<line x1="108.3" y1="282.0" x2="130.5" y2="282.0" stroke="#333" stroke-width="0.7"/>
<line x1="130.50" y1="278.7" x2="130.50" y2="285.5" stroke="#666" stroke-width="0.9"/>
<line x1="148.50" y1="278.7" x2="148.50" y2="285.5" stroke="#666" stroke-width="0.9"/>
<line x1="130.50" y1="282.0" x2="148.50" y2="282.0" stroke="#888" stroke-width="1"/>
<path d="M130.80 282.0 l5.6 -2.0 q-0.8 2.0 0 4.0 z" fill="#000"/>
<path d="M148.20 282.0 l-5.6 -2.0 q0.8 2.0 0 4.0 z" fill="#000"/>
<rect x="181.5" y="253.5" width="31.0" height="25.80000000000001" fill="#fff" stroke="#ababab" stroke-width="0.9"/>
<line x1="182.5" y1="259.3" x2="203" y2="259.3" stroke="#a8a8ff" stroke-width="1.1"/>
<text x="205" y="261.8" font-size="8" font-style="italic" style="stroke-width:0.1px">u<tspan font-size="5.2" dy="2.2">d</tspan></text>
<line x1="182.5" y1="271.5" x2="203" y2="271.5" stroke="#ff9a9a" stroke-width="1.1"/>
<text x="205" y="274.0" font-size="8" font-style="italic" style="stroke-width:0.1px">u<tspan font-size="5.2" dy="2.2">q</tspan></text>
<text transform="translate(16.7 319.1) rotate(-90)" font-size="12.0" text-anchor="middle">Dq-axis voltages(V)</text>
<text x="131.0" y="428.2" font-size="12.3" text-anchor="middle">Time(s)</text>
<text x="116.2" y="451.9" font-size="11.8" text-anchor="middle">(<tspan font-weight="bold">c</tspan>)</text>
<line x1="348.5" y1="363.50" x2="528.5" y2="363.50" stroke="#f6f6f6" stroke-width="1"/>
<line x1="348.5" y1="334.50" x2="528.5" y2="334.50" stroke="#f6f6f6" stroke-width="1"/>
<line x1="348.5" y1="305.50" x2="528.5" y2="305.50" stroke="#f6f6f6" stroke-width="1"/>
<line x1="348.5" y1="276.50" x2="528.5" y2="276.50" stroke="#f6f6f6" stroke-width="1"/>
<line x1="348.50" y1="392.5" x2="348.50" y2="395.0" stroke="#7c7c7c" stroke-width="1"/>
<line x1="438.50" y1="392.5" x2="438.50" y2="395.0" stroke="#7c7c7c" stroke-width="1"/>
<line x1="528.50" y1="392.5" x2="528.50" y2="395.0" stroke="#7c7c7c" stroke-width="1"/>
<line x1="393.50" y1="392.5" x2="393.50" y2="394.0" stroke="#7c7c7c" stroke-width="1"/>
<line x1="483.50" y1="392.5" x2="483.50" y2="394.0" stroke="#7c7c7c" stroke-width="1"/>
<line x1="346.0" y1="392.50" x2="348.5" y2="392.50" stroke="#7c7c7c" stroke-width="1"/>
<line x1="346.0" y1="363.50" x2="348.5" y2="363.50" stroke="#7c7c7c" stroke-width="1"/>
<line x1="346.0" y1="334.50" x2="348.5" y2="334.50" stroke="#7c7c7c" stroke-width="1"/>
<line x1="346.0" y1="305.50" x2="348.5" y2="305.50" stroke="#7c7c7c" stroke-width="1"/>
<line x1="346.0" y1="276.50" x2="348.5" y2="276.50" stroke="#7c7c7c" stroke-width="1"/>
<line x1="346.0" y1="247.50" x2="348.5" y2="247.50" stroke="#7c7c7c" stroke-width="1"/>
<line x1="347.0" y1="378.00" x2="348.5" y2="378.00" stroke="#7c7c7c" stroke-width="1"/>
<line x1="347.0" y1="349.00" x2="348.5" y2="349.00" stroke="#7c7c7c" stroke-width="1"/>
<line x1="347.0" y1="320.00" x2="348.5" y2="320.00" stroke="#7c7c7c" stroke-width="1"/>
<line x1="347.0" y1="291.00" x2="348.5" y2="291.00" stroke="#7c7c7c" stroke-width="1"/>
<line x1="347.0" y1="262.00" x2="348.5" y2="262.00" stroke="#7c7c7c" stroke-width="1"/>
<rect x="348.5" y="247.5" width="180.0" height="145.0" fill="none" stroke="#7c7c7c" stroke-width="1"/>
<text transform="translate(348.50 405.3) scale(0.93 1)" font-size="12.0" text-anchor="middle">1.0000</text>
<text transform="translate(438.50 405.3) scale(0.93 1)" font-size="12.0" text-anchor="middle">1.0005</text>
<text transform="translate(528.50 405.3) scale(0.93 1)" font-size="12.0" text-anchor="middle">1.0010</text>
<text transform="translate(343.6 395.35) scale(0.93 1)" font-size="12.0" text-anchor="end">−15</text>
<text transform="translate(343.6 366.35) scale(0.93 1)" font-size="12.0" text-anchor="end">0</text>
<text transform="translate(343.6 337.35) scale(0.93 1)" font-size="12.0" text-anchor="end">15</text>
<text transform="translate(343.6 308.35) scale(0.93 1)" font-size="12.0" text-anchor="end">30</text>
<text transform="translate(343.6 279.35) scale(0.93 1)" font-size="12.0" text-anchor="end">45</text>
<text transform="translate(343.6 250.35) scale(0.93 1)" font-size="12.0" text-anchor="end">60</text>
<path d="M349.0 363.50 H366.50 V290.81 H438.50 V363.50 H456.50 V290.81 H528.0" fill="none" stroke="#ff8a8a" stroke-width="1.1"/>
<line x1="349.0" y1="370.65" x2="528.0" y2="370.65" stroke="#9c9cf2" stroke-width="1.1"/>
<rect x="490.5" y="257.0" width="31.0" height="25.5" fill="#fff" stroke="#ababab" stroke-width="0.9"/>
<line x1="491.5" y1="263" x2="512" y2="263" stroke="#b4b4ff" stroke-width="1.6"/>
<text x="514" y="265.5" font-size="8" font-style="italic" style="stroke-width:0.1px">u<tspan font-size="5.2" dy="2.2">d</tspan></text>
<line x1="491.5" y1="275.5" x2="512" y2="275.5" stroke="#ff9a9a" stroke-width="1.1"/>
<text x="514" y="278.0" font-size="8" font-style="italic" style="stroke-width:0.1px">u<tspan font-size="5.2" dy="2.2">q</tspan></text>
<text transform="translate(324.1 319.0) rotate(-90)" font-size="12.1" text-anchor="middle">Dq-axis voltages(V)</text>
<text x="438.8" y="427.9" font-size="12.3" text-anchor="middle">Time(s)</text>
<text x="428.1" y="451.9" font-size="11.8" text-anchor="middle">(<tspan font-weight="bold">d</tspan>)</text>
</svg>
</body></html>
